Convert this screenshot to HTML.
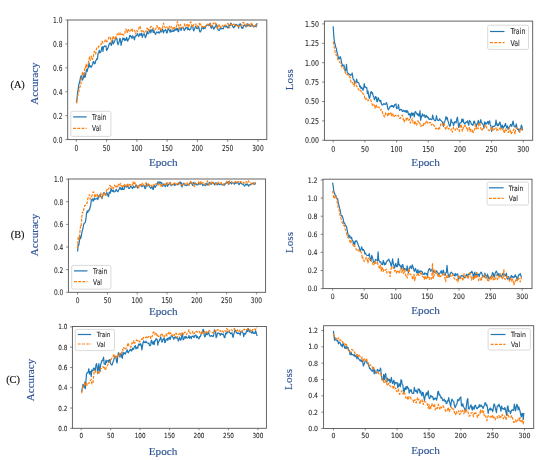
<!DOCTYPE html>
<html><head><meta charset="utf-8"><title>Training curves</title>
<style>html,body{margin:0;padding:0;background:#fff}body{width:550px;height:460px;overflow:hidden}svg{display:block}</style>
</head><body>
<svg width="550" height="460" viewBox="0 0 550 460">
<rect width="550" height="460" fill="#fff"/>
<g><path d="M76.30 102.52 L76.91 100.29 L77.51 93.06 L78.12 89.43 L78.72 85.40 L79.33 82.76 L79.93 80.77 L80.54 77.11 L81.15 75.65 L81.75 76.31 L82.36 80.13 L82.96 79.04 L83.57 76.76 L84.17 72.79 L84.78 77.46 L85.39 76.17 L85.99 72.59 L86.60 69.36 L87.20 71.39 L87.81 68.26 L88.41 67.52 L89.02 62.86 L89.63 66.76 L90.23 65.68 L90.84 67.16 L91.44 67.15 L92.05 65.24 L92.65 64.25 L93.26 61.47 L93.87 61.82 L94.47 63.81 L95.08 63.52 L95.68 60.93 L96.29 60.12 L96.89 58.57 L97.50 59.10 L98.11 52.98 L98.71 52.87 L99.32 50.25 L99.92 52.99 L100.53 52.20 L101.13 51.25 L101.74 47.54 L102.35 46.69 L102.95 51.30 L103.56 46.88 L104.16 46.72 L104.77 45.88 L105.37 46.45 L105.98 45.98 L106.58 50.47 L107.19 49.63 L107.80 48.36 L108.40 46.83 L109.01 44.48 L109.61 43.20 L110.22 42.82 L110.82 44.54 L111.43 45.40 L112.04 41.21 L112.64 40.00 L113.25 43.99 L113.85 42.67 L114.46 41.94 L115.06 39.98 L115.67 38.93 L116.28 38.38 L116.88 38.40 L117.49 43.46 L118.09 44.62 L118.70 43.14 L119.30 41.00 L119.91 38.30 L120.52 40.29 L121.12 45.35 L121.73 42.20 L122.33 40.17 L122.94 37.85 L123.54 39.62 L124.15 38.30 L124.76 40.58 L125.36 39.16 L125.97 40.17 L126.57 37.25 L127.18 39.96 L127.78 41.13 L128.39 39.09 L129.00 39.05 L129.60 35.78 L130.21 35.28 L130.81 36.76 L131.42 36.57 L132.02 38.53 L132.63 35.74 L133.24 36.73 L133.84 37.78 L134.45 39.94 L135.05 36.11 L135.66 36.73 L136.26 35.42 L136.87 35.32 L137.48 33.50 L138.08 35.25 L138.69 36.50 L139.29 35.40 L139.90 33.41 L140.50 35.00 L141.11 35.28 L141.72 33.01 L142.32 37.34 L142.93 35.23 L143.53 34.66 L144.14 33.69 L144.74 34.91 L145.35 37.75 L145.96 36.50 L146.56 34.53 L147.17 31.33 L147.77 33.34 L148.38 33.57 L148.98 32.81 L149.59 31.01 L150.20 29.74 L150.80 32.89 L151.41 30.50 L152.01 29.68 L152.62 29.68 L153.22 32.51 L153.83 30.21 L154.44 32.59 L155.04 33.29 L155.65 34.39 L156.25 32.57 L156.86 31.79 L157.46 32.47 L158.07 32.86 L158.68 31.93 L159.28 33.04 L159.89 32.70 L160.49 30.40 L161.10 30.88 L161.70 31.87 L162.31 29.24 L162.92 29.95 L163.52 32.92 L164.13 31.04 L164.73 30.54 L165.34 29.71 L165.94 29.86 L166.55 32.96 L167.16 32.98 L167.76 30.24 L168.37 28.25 L168.97 29.91 L169.58 30.23 L170.18 32.27 L170.79 29.59 L171.39 31.56 L172.00 31.56 L172.61 31.10 L173.21 30.14 L173.82 31.55 L174.42 30.13 L175.03 29.20 L175.63 30.04 L176.24 28.49 L176.85 30.05 L177.45 28.40 L178.06 31.35 L178.66 31.64 L179.27 27.72 L179.87 28.20 L180.48 28.15 L181.09 30.52 L181.69 28.19 L182.30 27.99 L182.90 27.29 L183.51 27.75 L184.11 30.60 L184.72 30.05 L185.33 28.66 L185.93 27.41 L186.54 27.85 L187.14 27.44 L187.75 29.65 L188.35 28.05 L188.96 29.53 L189.57 30.18 L190.17 29.26 L190.78 28.88 L191.38 26.07 L191.99 26.65 L192.59 26.14 L193.20 29.41 L193.81 30.91 L194.41 29.16 L195.02 27.74 L195.62 26.48 L196.23 27.27 L196.83 28.44 L197.44 28.70 L198.05 27.65 L198.65 26.54 L199.26 29.30 L199.86 31.89 L200.47 31.85 L201.07 30.46 L201.68 28.47 L202.29 26.53 L202.89 28.01 L203.50 29.05 L204.10 26.60 L204.71 28.40 L205.31 28.15 L205.92 25.92 L206.53 25.48 L207.13 25.29 L207.74 25.02 L208.34 24.48 L208.95 25.77 L209.55 24.35 L210.16 23.17 L210.77 27.51 L211.37 28.24 L211.98 25.45 L212.58 25.91 L213.19 28.09 L213.79 29.16 L214.40 28.19 L215.01 26.66 L215.61 26.78 L216.22 24.13 L216.82 24.95 L217.43 27.87 L218.03 29.76 L218.64 30.27 L219.25 30.50 L219.85 29.28 L220.46 27.33 L221.06 28.89 L221.67 28.48 L222.27 28.49 L222.88 28.86 L223.49 28.40 L224.09 26.12 L224.70 26.18 L225.30 25.45 L225.91 27.08 L226.51 25.93 L227.12 26.68 L227.73 27.97 L228.33 27.79 L228.94 25.08 L229.54 25.58 L230.15 25.76 L230.75 23.18 L231.36 23.93 L231.96 24.83 L232.57 26.43 L233.18 27.05 L233.78 27.99 L234.39 26.02 L234.99 26.50 L235.60 24.35 L236.20 24.46 L236.81 25.68 L237.42 25.09 L238.02 25.78 L238.63 28.23 L239.23 24.13 L239.84 24.94 L240.44 23.77 L241.05 25.91 L241.66 28.13 L242.26 27.47 L242.87 28.36 L243.47 25.82 L244.08 25.28 L244.68 24.94 L245.29 26.07 L245.90 26.97 L246.50 26.35 L247.11 23.52 L247.71 25.89 L248.32 24.20 L248.92 25.81 L249.53 24.83 L250.14 25.32 L250.74 26.47 L251.35 25.05 L251.95 24.83 L252.56 24.84 L253.16 26.59 L253.77 26.38 L254.38 26.57 L254.98 26.25 L255.59 25.09 L256.19 26.79 L256.80 23.85 L257.40 23.54" fill="none" stroke="#1f77b4" stroke-width="1.2" stroke-linejoin="round"/>
<path d="M76.30 101.33 L76.91 102.95 L77.51 96.06 L78.12 94.82 L78.72 92.35 L79.33 88.17 L79.93 86.94 L80.54 86.17 L81.15 81.69 L81.75 78.22 L82.36 71.86 L82.96 74.52 L83.57 75.49 L84.17 74.23 L84.78 68.04 L85.39 68.64 L85.99 64.18 L86.60 67.83 L87.20 65.36 L87.81 64.52 L88.41 62.38 L89.02 58.78 L89.63 56.86 L90.23 60.44 L90.84 59.15 L91.44 56.13 L92.05 58.80 L92.65 59.36 L93.26 57.72 L93.87 52.11 L94.47 51.37 L95.08 53.34 L95.68 54.12 L96.29 49.47 L96.89 47.50 L97.50 47.90 L98.11 47.76 L98.71 46.17 L99.32 46.30 L99.92 45.22 L100.53 45.20 L101.13 44.44 L101.74 41.30 L102.35 41.40 L102.95 43.11 L103.56 42.46 L104.16 42.15 L104.77 41.74 L105.37 39.64 L105.98 39.72 L106.58 41.75 L107.19 41.28 L107.80 40.62 L108.40 38.93 L109.01 37.18 L109.61 37.60 L110.22 37.07 L110.82 39.95 L111.43 42.22 L112.04 38.84 L112.64 38.33 L113.25 35.72 L113.85 38.27 L114.46 39.34 L115.06 39.61 L115.67 35.84 L116.28 37.94 L116.88 34.67 L117.49 34.04 L118.09 34.57 L118.70 32.74 L119.30 33.76 L119.91 34.73 L120.52 32.95 L121.12 34.39 L121.73 34.48 L122.33 33.17 L122.94 34.85 L123.54 34.83 L124.15 35.21 L124.76 33.95 L125.36 30.64 L125.97 28.96 L126.57 31.16 L127.18 32.62 L127.78 29.92 L128.39 29.11 L129.00 31.10 L129.60 31.10 L130.21 31.85 L130.81 30.13 L131.42 29.90 L132.02 28.23 L132.63 31.35 L133.24 30.80 L133.84 30.22 L134.45 30.24 L135.05 31.53 L135.66 34.20 L136.26 31.19 L136.87 30.41 L137.48 31.65 L138.08 31.11 L138.69 29.63 L139.29 26.23 L139.90 26.19 L140.50 28.40 L141.11 31.25 L141.72 30.68 L142.32 31.77 L142.93 30.64 L143.53 31.83 L144.14 32.29 L144.74 31.11 L145.35 30.90 L145.96 31.97 L146.56 28.99 L147.17 28.06 L147.77 29.50 L148.38 31.09 L148.98 28.42 L149.59 27.72 L150.20 27.78 L150.80 26.55 L151.41 26.52 L152.01 27.07 L152.62 28.16 L153.22 27.89 L153.83 29.49 L154.44 30.06 L155.04 30.16 L155.65 29.32 L156.25 27.36 L156.86 25.51 L157.46 26.70 L158.07 29.19 L158.68 29.13 L159.28 26.60 L159.89 28.05 L160.49 30.18 L161.10 28.80 L161.70 30.43 L162.31 29.06 L162.92 25.87 L163.52 23.20 L164.13 25.28 L164.73 27.03 L165.34 27.92 L165.94 27.02 L166.55 26.37 L167.16 27.60 L167.76 28.13 L168.37 29.33 L168.97 27.96 L169.58 26.18 L170.18 26.86 L170.79 27.92 L171.39 26.59 L172.00 27.47 L172.61 29.26 L173.21 27.46 L173.82 29.00 L174.42 27.50 L175.03 28.03 L175.63 26.81 L176.24 27.14 L176.85 24.15 L177.45 21.58 L178.06 24.04 L178.66 25.74 L179.27 28.99 L179.87 27.12 L180.48 24.48 L181.09 26.49 L181.69 27.38 L182.30 27.58 L182.90 27.21 L183.51 27.60 L184.11 26.46 L184.72 23.93 L185.33 25.48 L185.93 26.13 L186.54 24.73 L187.14 25.69 L187.75 24.39 L188.35 27.50 L188.96 26.00 L189.57 24.14 L190.17 22.75 L190.78 21.79 L191.38 23.82 L191.99 26.11 L192.59 27.49 L193.20 25.53 L193.81 24.44 L194.41 24.68 L195.02 24.26 L195.62 23.91 L196.23 25.83 L196.83 27.66 L197.44 26.22 L198.05 25.71 L198.65 24.66 L199.26 23.30 L199.86 25.93 L200.47 23.92 L201.07 26.06 L201.68 25.92 L202.29 27.23 L202.89 25.87 L203.50 26.90 L204.10 26.86 L204.71 26.95 L205.31 26.47 L205.92 25.75 L206.53 24.98 L207.13 24.23 L207.74 24.18 L208.34 25.40 L208.95 25.20 L209.55 23.67 L210.16 24.35 L210.77 26.73 L211.37 25.28 L211.98 25.74 L212.58 25.03 L213.19 23.12 L213.79 23.76 L214.40 23.22 L215.01 23.94 L215.61 23.03 L216.22 25.35 L216.82 27.87 L217.43 28.05 L218.03 28.48 L218.64 26.62 L219.25 23.93 L219.85 25.95 L220.46 27.32 L221.06 26.56 L221.67 27.06 L222.27 26.22 L222.88 25.20 L223.49 24.94 L224.09 25.75 L224.70 25.04 L225.30 25.05 L225.91 25.38 L226.51 25.56 L227.12 24.17 L227.73 23.38 L228.33 23.79 L228.94 26.44 L229.54 27.77 L230.15 25.33 L230.75 24.73 L231.36 24.59 L231.96 24.59 L232.57 23.59 L233.18 24.46 L233.78 23.98 L234.39 24.87 L234.99 26.51 L235.60 25.55 L236.20 25.28 L236.81 25.67 L237.42 25.38 L238.02 24.94 L238.63 26.88 L239.23 25.80 L239.84 26.04 L240.44 25.83 L241.05 25.53 L241.66 26.03 L242.26 23.98 L242.87 22.54 L243.47 22.39 L244.08 23.18 L244.68 23.23 L245.29 23.55 L245.90 25.85 L246.50 26.38 L247.11 24.04 L247.71 23.96 L248.32 24.73 L248.92 24.23 L249.53 26.26 L250.14 25.13 L250.74 23.28 L251.35 23.74 L251.95 24.62 L252.56 24.19 L253.16 25.29 L253.77 27.19 L254.38 25.07 L254.98 25.12 L255.59 25.51 L256.19 25.64 L256.80 25.66 L257.40 23.51" fill="none" stroke="#ff7f0e" stroke-width="1.2" stroke-dasharray="2.9 1.3" stroke-linejoin="round"/>
<rect x="67.70" y="20.00" width="199.10" height="119.60" fill="none" stroke="#555555" stroke-width="0.9"/>
<line x1="76.30" y1="139.60" x2="76.30" y2="141.80" stroke="#555555" stroke-width="0.7"/>
<text transform="translate(76.30 150.85) scale(0.723 1)" text-anchor="middle" font-family="&quot;DejaVu Sans&quot;, &quot;Liberation Sans&quot;, sans-serif" font-size="8.21" fill="#2b2b2b" stroke="#2b2b2b" stroke-width="0.1">0</text>
<line x1="106.58" y1="139.60" x2="106.58" y2="141.80" stroke="#555555" stroke-width="0.7"/>
<text transform="translate(106.58 150.85) scale(0.723 1)" text-anchor="middle" font-family="&quot;DejaVu Sans&quot;, &quot;Liberation Sans&quot;, sans-serif" font-size="8.21" fill="#2b2b2b" stroke="#2b2b2b" stroke-width="0.1">50</text>
<line x1="136.87" y1="139.60" x2="136.87" y2="141.80" stroke="#555555" stroke-width="0.7"/>
<text transform="translate(136.87 150.85) scale(0.723 1)" text-anchor="middle" font-family="&quot;DejaVu Sans&quot;, &quot;Liberation Sans&quot;, sans-serif" font-size="8.21" fill="#2b2b2b" stroke="#2b2b2b" stroke-width="0.1">100</text>
<line x1="167.16" y1="139.60" x2="167.16" y2="141.80" stroke="#555555" stroke-width="0.7"/>
<text transform="translate(167.16 150.85) scale(0.723 1)" text-anchor="middle" font-family="&quot;DejaVu Sans&quot;, &quot;Liberation Sans&quot;, sans-serif" font-size="8.21" fill="#2b2b2b" stroke="#2b2b2b" stroke-width="0.1">150</text>
<line x1="197.44" y1="139.60" x2="197.44" y2="141.80" stroke="#555555" stroke-width="0.7"/>
<text transform="translate(197.44 150.85) scale(0.723 1)" text-anchor="middle" font-family="&quot;DejaVu Sans&quot;, &quot;Liberation Sans&quot;, sans-serif" font-size="8.21" fill="#2b2b2b" stroke="#2b2b2b" stroke-width="0.1">200</text>
<line x1="227.73" y1="139.60" x2="227.73" y2="141.80" stroke="#555555" stroke-width="0.7"/>
<text transform="translate(227.73 150.85) scale(0.723 1)" text-anchor="middle" font-family="&quot;DejaVu Sans&quot;, &quot;Liberation Sans&quot;, sans-serif" font-size="8.21" fill="#2b2b2b" stroke="#2b2b2b" stroke-width="0.1">250</text>
<line x1="258.01" y1="139.60" x2="258.01" y2="141.80" stroke="#555555" stroke-width="0.7"/>
<text transform="translate(258.01 150.85) scale(0.723 1)" text-anchor="middle" font-family="&quot;DejaVu Sans&quot;, &quot;Liberation Sans&quot;, sans-serif" font-size="8.21" fill="#2b2b2b" stroke="#2b2b2b" stroke-width="0.1">300</text>
<line x1="65.40" y1="139.60" x2="67.70" y2="139.60" stroke="#555555" stroke-width="0.7"/>
<text transform="translate(62.50 142.60) scale(0.723 1)" text-anchor="end" font-family="&quot;DejaVu Sans&quot;, &quot;Liberation Sans&quot;, sans-serif" font-size="8.21" fill="#2b2b2b" stroke="#2b2b2b" stroke-width="0.1">0.0</text>
<line x1="65.40" y1="115.68" x2="67.70" y2="115.68" stroke="#555555" stroke-width="0.7"/>
<text transform="translate(62.50 118.68) scale(0.723 1)" text-anchor="end" font-family="&quot;DejaVu Sans&quot;, &quot;Liberation Sans&quot;, sans-serif" font-size="8.21" fill="#2b2b2b" stroke="#2b2b2b" stroke-width="0.1">0.2</text>
<line x1="65.40" y1="91.76" x2="67.70" y2="91.76" stroke="#555555" stroke-width="0.7"/>
<text transform="translate(62.50 94.76) scale(0.723 1)" text-anchor="end" font-family="&quot;DejaVu Sans&quot;, &quot;Liberation Sans&quot;, sans-serif" font-size="8.21" fill="#2b2b2b" stroke="#2b2b2b" stroke-width="0.1">0.4</text>
<line x1="65.40" y1="67.84" x2="67.70" y2="67.84" stroke="#555555" stroke-width="0.7"/>
<text transform="translate(62.50 70.84) scale(0.723 1)" text-anchor="end" font-family="&quot;DejaVu Sans&quot;, &quot;Liberation Sans&quot;, sans-serif" font-size="8.21" fill="#2b2b2b" stroke="#2b2b2b" stroke-width="0.1">0.6</text>
<line x1="65.40" y1="43.92" x2="67.70" y2="43.92" stroke="#555555" stroke-width="0.7"/>
<text transform="translate(62.50 46.92) scale(0.723 1)" text-anchor="end" font-family="&quot;DejaVu Sans&quot;, &quot;Liberation Sans&quot;, sans-serif" font-size="8.21" fill="#2b2b2b" stroke="#2b2b2b" stroke-width="0.1">0.8</text>
<line x1="65.40" y1="20.00" x2="67.70" y2="20.00" stroke="#555555" stroke-width="0.7"/>
<text transform="translate(62.50 23.00) scale(0.723 1)" text-anchor="end" font-family="&quot;DejaVu Sans&quot;, &quot;Liberation Sans&quot;, sans-serif" font-size="8.21" fill="#2b2b2b" stroke="#2b2b2b" stroke-width="0.1">1.0</text>
<rect x="70.80" y="111.30" width="40.10" height="25.10" rx="1.6" fill="#fff" fill-opacity="0.8" stroke="#d0d0d0" stroke-width="0.8"/>
<line x1="73.10" y1="116.90" x2="86.70" y2="116.90" stroke="#1f77b4" stroke-width="1.2"/>
<line x1="73.10" y1="128.30" x2="86.70" y2="128.30" stroke="#ff7f0e" stroke-width="1.2" stroke-dasharray="2.9 1.3"/>
<text transform="translate(92.10 119.90) scale(0.723 1)" text-anchor="start" font-family="&quot;DejaVu Sans&quot;, &quot;Liberation Sans&quot;, sans-serif" font-size="8.21" fill="#2b2b2b" stroke="#2b2b2b" stroke-width="0.1">Train</text>
<text transform="translate(92.10 131.30) scale(0.723 1)" text-anchor="start" font-family="&quot;DejaVu Sans&quot;, &quot;Liberation Sans&quot;, sans-serif" font-size="8.21" fill="#2b2b2b" stroke="#2b2b2b" stroke-width="0.1">Val</text>
<text transform="translate(37.60 83.60) rotate(-90)" text-anchor="middle" font-family="&quot;Liberation Serif&quot;, &quot;Times New Roman&quot;, serif" font-size="11.1" fill="#2f5496" stroke="#2f5496" stroke-width="0.15">Accuracy</text>
<text transform="translate(163.20 166.30)" text-anchor="middle" font-family="&quot;Liberation Serif&quot;, &quot;Times New Roman&quot;, serif" font-size="11.2" fill="#2f5496" stroke="#2f5496" stroke-width="0.15">Epoch</text>
<text transform="translate(17.60 88.30)" text-anchor="middle" font-family="&quot;Liberation Serif&quot;, &quot;Times New Roman&quot;, serif" font-size="10.3" fill="#111" stroke="#111" stroke-width="0.15">(A)</text></g>
<g><path d="M333.20 26.23 L333.83 37.03 L334.47 42.04 L335.10 44.48 L335.73 47.20 L336.37 48.54 L337.00 52.62 L337.63 54.53 L338.27 57.61 L338.90 58.91 L339.53 58.65 L340.17 56.49 L340.80 58.24 L341.44 61.52 L342.07 64.26 L342.70 65.79 L343.34 65.70 L343.97 64.89 L344.60 69.33 L345.24 71.01 L345.87 69.74 L346.50 64.28 L347.14 71.67 L347.77 73.35 L348.40 73.30 L349.04 74.67 L349.67 74.33 L350.30 75.39 L350.94 74.85 L351.57 74.87 L352.20 72.98 L352.84 77.59 L353.47 79.93 L354.11 79.91 L354.74 83.49 L355.37 81.93 L356.01 82.33 L356.64 79.18 L357.27 82.10 L357.91 82.64 L358.54 82.48 L359.17 84.32 L359.81 86.86 L360.44 85.95 L361.07 88.69 L361.71 87.40 L362.34 88.54 L362.97 90.22 L363.61 88.69 L364.24 83.51 L364.88 87.20 L365.51 86.94 L366.14 87.74 L366.78 87.66 L367.41 93.58 L368.04 91.06 L368.68 95.51 L369.31 98.46 L369.94 97.08 L370.58 93.03 L371.21 91.55 L371.84 93.37 L372.48 92.62 L373.11 95.90 L373.74 96.71 L374.38 99.68 L375.01 98.45 L375.64 96.51 L376.28 97.40 L376.91 101.63 L377.54 101.36 L378.18 97.63 L378.81 99.22 L379.45 100.36 L380.08 101.74 L380.71 100.37 L381.35 103.61 L381.98 104.98 L382.61 104.84 L383.25 104.54 L383.88 103.43 L384.51 104.14 L385.15 104.38 L385.78 103.98 L386.41 102.60 L387.05 104.30 L387.68 108.13 L388.31 109.84 L388.95 108.74 L389.58 107.44 L390.21 106.45 L390.85 106.77 L391.48 105.44 L392.12 106.43 L392.75 105.52 L393.38 107.28 L394.02 106.78 L394.65 104.60 L395.28 104.66 L395.92 103.79 L396.55 108.53 L397.18 108.34 L397.82 108.06 L398.45 104.52 L399.08 108.94 L399.72 110.48 L400.35 109.34 L400.98 109.51 L401.62 109.49 L402.25 111.44 L402.88 111.39 L403.52 110.40 L404.15 110.65 L404.79 111.73 L405.42 111.98 L406.05 110.27 L406.69 112.41 L407.32 110.81 L407.95 111.83 L408.59 114.77 L409.22 114.75 L409.85 113.61 L410.49 117.88 L411.12 114.32 L411.75 112.80 L412.39 115.36 L413.02 113.08 L413.65 113.77 L414.29 117.03 L414.92 112.42 L415.55 111.52 L416.19 112.85 L416.82 114.06 L417.46 113.70 L418.09 115.68 L418.72 114.05 L419.36 116.01 L419.99 110.71 L420.62 120.28 L421.26 117.65 L421.89 115.48 L422.52 113.84 L423.16 116.09 L423.79 115.55 L424.42 114.82 L425.06 117.33 L425.69 117.37 L426.32 115.27 L426.96 116.23 L427.59 117.74 L428.22 117.31 L428.86 118.96 L429.49 119.43 L430.13 118.72 L430.76 119.43 L431.39 119.56 L432.03 119.46 L432.66 115.11 L433.29 117.71 L433.93 119.56 L434.56 120.26 L435.19 120.85 L435.83 119.95 L436.46 115.58 L437.09 119.05 L437.73 120.28 L438.36 120.56 L438.99 120.15 L439.63 118.76 L440.26 120.09 L440.89 120.29 L441.53 121.05 L442.16 121.75 L442.80 123.04 L443.43 126.36 L444.06 122.05 L444.70 121.93 L445.33 119.71 L445.96 116.51 L446.60 119.14 L447.23 117.53 L447.86 120.71 L448.50 122.13 L449.13 125.09 L449.76 126.33 L450.40 125.39 L451.03 119.04 L451.66 121.40 L452.30 122.66 L452.93 122.52 L453.56 125.63 L454.20 123.21 L454.83 121.69 L455.47 121.85 L456.10 122.87 L456.73 119.35 L457.37 117.13 L458.00 121.44 L458.63 127.33 L459.27 126.13 L459.90 122.80 L460.53 122.84 L461.17 122.52 L461.80 119.19 L462.43 121.61 L463.07 119.16 L463.70 122.61 L464.33 122.96 L464.97 124.15 L465.60 122.38 L466.24 121.89 L466.87 122.27 L467.50 120.85 L468.14 123.59 L468.77 125.20 L469.40 120.25 L470.04 121.09 L470.67 121.81 L471.30 124.29 L471.94 124.33 L472.57 125.29 L473.20 124.62 L473.84 121.26 L474.47 121.06 L475.10 123.99 L475.74 124.73 L476.37 126.57 L477.00 123.69 L477.64 123.81 L478.27 120.44 L478.90 122.69 L479.54 123.87 L480.17 122.24 L480.81 119.62 L481.44 122.81 L482.07 123.00 L482.71 124.37 L483.34 124.86 L483.97 128.20 L484.61 121.94 L485.24 122.45 L485.87 124.38 L486.51 123.77 L487.14 122.67 L487.77 121.48 L488.41 124.20 L489.04 121.47 L489.67 120.80 L490.31 125.23 L490.94 125.86 L491.57 131.33 L492.21 128.55 L492.84 126.02 L493.48 126.60 L494.11 126.48 L494.74 125.78 L495.38 125.34 L496.01 120.14 L496.64 124.14 L497.28 125.82 L497.91 123.88 L498.54 125.56 L499.18 123.70 L499.81 121.82 L500.44 123.96 L501.08 128.13 L501.71 127.02 L502.34 125.04 L502.98 128.64 L503.61 126.51 L504.25 126.76 L504.88 124.96 L505.51 123.36 L506.15 126.37 L506.78 127.89 L507.41 125.84 L508.05 129.33 L508.68 127.47 L509.31 127.47 L509.95 125.97 L510.58 124.40 L511.21 125.00 L511.85 126.51 L512.48 123.13 L513.11 121.03 L513.75 125.04 L514.38 126.65 L515.01 127.09 L515.65 126.48 L516.28 123.97 L516.91 127.58 L517.55 129.53 L518.18 128.84 L518.82 130.95 L519.45 132.00 L520.08 128.68 L520.72 128.85 L521.35 125.06 L521.98 126.68 L522.62 130.13" fill="none" stroke="#1f77b4" stroke-width="1.2" stroke-linejoin="round"/>
<path d="M333.20 41.75 L333.83 44.71 L334.47 48.47 L335.10 51.92 L335.73 54.04 L336.37 55.59 L337.00 55.62 L337.63 58.75 L338.27 60.54 L338.90 61.00 L339.53 61.85 L340.17 62.82 L340.80 63.45 L341.44 66.44 L342.07 67.09 L342.70 67.34 L343.34 67.16 L343.97 68.63 L344.60 70.09 L345.24 72.53 L345.87 73.74 L346.50 75.10 L347.14 74.55 L347.77 74.57 L348.40 74.53 L349.04 76.75 L349.67 76.50 L350.30 77.95 L350.94 82.10 L351.57 81.38 L352.20 82.19 L352.84 83.17 L353.47 85.18 L354.11 86.25 L354.74 82.50 L355.37 81.86 L356.01 83.52 L356.64 86.70 L357.27 86.64 L357.91 88.83 L358.54 88.90 L359.17 90.94 L359.81 90.75 L360.44 90.28 L361.07 91.01 L361.71 92.55 L362.34 92.16 L362.97 93.92 L363.61 94.10 L364.24 94.44 L364.88 99.12 L365.51 99.53 L366.14 98.23 L366.78 99.79 L367.41 99.26 L368.04 100.78 L368.68 99.96 L369.31 99.81 L369.94 100.20 L370.58 99.75 L371.21 101.24 L371.84 103.20 L372.48 105.42 L373.11 104.07 L373.74 104.57 L374.38 105.67 L375.01 108.29 L375.64 104.61 L376.28 105.23 L376.91 107.64 L377.54 108.05 L378.18 106.99 L378.81 107.12 L379.45 107.98 L380.08 108.98 L380.71 110.33 L381.35 109.34 L381.98 111.34 L382.61 112.89 L383.25 115.29 L383.88 115.41 L384.51 117.02 L385.15 115.88 L385.78 112.70 L386.41 112.75 L387.05 113.55 L387.68 116.44 L388.31 115.13 L388.95 112.73 L389.58 114.14 L390.21 113.75 L390.85 112.98 L391.48 115.77 L392.12 113.69 L392.75 113.17 L393.38 117.01 L394.02 116.44 L394.65 116.52 L395.28 115.60 L395.92 115.19 L396.55 114.89 L397.18 115.79 L397.82 115.56 L398.45 115.27 L399.08 117.95 L399.72 118.23 L400.35 118.39 L400.98 117.15 L401.62 116.58 L402.25 114.96 L402.88 117.38 L403.52 120.38 L404.15 122.08 L404.79 120.60 L405.42 118.95 L406.05 118.19 L406.69 120.72 L407.32 118.03 L407.95 119.65 L408.59 120.50 L409.22 119.09 L409.85 120.98 L410.49 123.14 L411.12 120.33 L411.75 119.49 L412.39 118.54 L413.02 122.72 L413.65 122.59 L414.29 123.92 L414.92 120.85 L415.55 123.24 L416.19 125.39 L416.82 124.95 L417.46 120.95 L418.09 121.03 L418.72 122.76 L419.36 122.13 L419.99 123.82 L420.62 126.43 L421.26 125.75 L421.89 125.40 L422.52 125.49 L423.16 126.59 L423.79 123.27 L424.42 124.43 L425.06 123.41 L425.69 122.87 L426.32 120.74 L426.96 121.89 L427.59 123.16 L428.22 123.84 L428.86 123.09 L429.49 122.63 L430.13 122.46 L430.76 122.61 L431.39 125.09 L432.03 124.04 L432.66 124.81 L433.29 124.04 L433.93 125.43 L434.56 126.30 L435.19 127.61 L435.83 129.05 L436.46 128.35 L437.09 127.76 L437.73 127.50 L438.36 129.34 L438.99 126.87 L439.63 128.61 L440.26 126.59 L440.89 123.77 L441.53 123.00 L442.16 123.65 L442.80 125.31 L443.43 123.64 L444.06 123.19 L444.70 126.40 L445.33 128.50 L445.96 129.62 L446.60 127.98 L447.23 126.30 L447.86 126.87 L448.50 129.08 L449.13 128.24 L449.76 128.60 L450.40 129.92 L451.03 130.00 L451.66 128.95 L452.30 132.24 L452.93 130.05 L453.56 127.08 L454.20 127.70 L454.83 128.76 L455.47 130.23 L456.10 128.79 L456.73 128.08 L457.37 128.90 L458.00 129.84 L458.63 130.41 L459.27 131.65 L459.90 128.18 L460.53 124.62 L461.17 124.57 L461.80 129.12 L462.43 131.20 L463.07 128.79 L463.70 125.82 L464.33 125.63 L464.97 126.62 L465.60 125.64 L466.24 128.12 L466.87 127.86 L467.50 130.87 L468.14 128.88 L468.77 127.42 L469.40 127.64 L470.04 131.30 L470.67 129.41 L471.30 129.63 L471.94 131.76 L472.57 129.76 L473.20 132.71 L473.84 131.34 L474.47 130.80 L475.10 125.87 L475.74 124.46 L476.37 129.12 L477.00 129.40 L477.64 127.80 L478.27 128.67 L478.90 122.92 L479.54 123.08 L480.17 124.74 L480.81 128.49 L481.44 129.81 L482.07 130.66 L482.71 128.88 L483.34 128.57 L483.97 127.98 L484.61 127.29 L485.24 124.80 L485.87 124.76 L486.51 127.51 L487.14 128.59 L487.77 129.75 L488.41 129.91 L489.04 130.76 L489.67 130.20 L490.31 130.46 L490.94 129.94 L491.57 126.34 L492.21 129.12 L492.84 129.03 L493.48 130.30 L494.11 128.78 L494.74 129.27 L495.38 129.58 L496.01 127.69 L496.64 130.72 L497.28 129.46 L497.91 129.83 L498.54 130.16 L499.18 128.75 L499.81 128.17 L500.44 129.75 L501.08 128.68 L501.71 128.23 L502.34 129.72 L502.98 128.90 L503.61 130.11 L504.25 133.41 L504.88 130.90 L505.51 128.76 L506.15 130.36 L506.78 130.58 L507.41 131.01 L508.05 132.42 L508.68 132.28 L509.31 127.57 L509.95 129.12 L510.58 132.54 L511.21 133.75 L511.85 131.92 L512.48 132.25 L513.11 131.01 L513.75 129.14 L514.38 131.77 L515.01 133.99 L515.65 128.32 L516.28 127.96 L516.91 128.38 L517.55 128.14 L518.18 128.62 L518.82 129.75 L519.45 130.93 L520.08 132.00 L520.72 130.80 L521.35 129.58 L521.98 128.24 L522.62 130.48" fill="none" stroke="#ff7f0e" stroke-width="1.2" stroke-dasharray="2.9 1.3" stroke-linejoin="round"/>
<rect x="324.40" y="21.10" width="208.30" height="119.20" fill="none" stroke="#555555" stroke-width="0.9"/>
<line x1="333.20" y1="140.30" x2="333.20" y2="142.49" stroke="#555555" stroke-width="0.7"/>
<text transform="translate(333.20 151.51) scale(0.766 1)" text-anchor="middle" font-family="&quot;DejaVu Sans&quot;, &quot;Liberation Sans&quot;, sans-serif" font-size="8.18" fill="#2b2b2b" stroke="#2b2b2b" stroke-width="0.1">0</text>
<line x1="364.88" y1="140.30" x2="364.88" y2="142.49" stroke="#555555" stroke-width="0.7"/>
<text transform="translate(364.88 151.51) scale(0.766 1)" text-anchor="middle" font-family="&quot;DejaVu Sans&quot;, &quot;Liberation Sans&quot;, sans-serif" font-size="8.18" fill="#2b2b2b" stroke="#2b2b2b" stroke-width="0.1">50</text>
<line x1="396.55" y1="140.30" x2="396.55" y2="142.49" stroke="#555555" stroke-width="0.7"/>
<text transform="translate(396.55 151.51) scale(0.766 1)" text-anchor="middle" font-family="&quot;DejaVu Sans&quot;, &quot;Liberation Sans&quot;, sans-serif" font-size="8.18" fill="#2b2b2b" stroke="#2b2b2b" stroke-width="0.1">100</text>
<line x1="428.22" y1="140.30" x2="428.22" y2="142.49" stroke="#555555" stroke-width="0.7"/>
<text transform="translate(428.22 151.51) scale(0.766 1)" text-anchor="middle" font-family="&quot;DejaVu Sans&quot;, &quot;Liberation Sans&quot;, sans-serif" font-size="8.18" fill="#2b2b2b" stroke="#2b2b2b" stroke-width="0.1">150</text>
<line x1="459.90" y1="140.30" x2="459.90" y2="142.49" stroke="#555555" stroke-width="0.7"/>
<text transform="translate(459.90 151.51) scale(0.766 1)" text-anchor="middle" font-family="&quot;DejaVu Sans&quot;, &quot;Liberation Sans&quot;, sans-serif" font-size="8.18" fill="#2b2b2b" stroke="#2b2b2b" stroke-width="0.1">200</text>
<line x1="491.57" y1="140.30" x2="491.57" y2="142.49" stroke="#555555" stroke-width="0.7"/>
<text transform="translate(491.57 151.51) scale(0.766 1)" text-anchor="middle" font-family="&quot;DejaVu Sans&quot;, &quot;Liberation Sans&quot;, sans-serif" font-size="8.18" fill="#2b2b2b" stroke="#2b2b2b" stroke-width="0.1">250</text>
<line x1="523.25" y1="140.30" x2="523.25" y2="142.49" stroke="#555555" stroke-width="0.7"/>
<text transform="translate(523.25 151.51) scale(0.766 1)" text-anchor="middle" font-family="&quot;DejaVu Sans&quot;, &quot;Liberation Sans&quot;, sans-serif" font-size="8.18" fill="#2b2b2b" stroke="#2b2b2b" stroke-width="0.1">300</text>
<line x1="322.10" y1="140.30" x2="324.40" y2="140.30" stroke="#555555" stroke-width="0.7"/>
<text transform="translate(318.96 143.29) scale(0.766 1)" text-anchor="end" font-family="&quot;DejaVu Sans&quot;, &quot;Liberation Sans&quot;, sans-serif" font-size="8.18" fill="#2b2b2b" stroke="#2b2b2b" stroke-width="0.1">0.00</text>
<line x1="322.10" y1="120.90" x2="324.40" y2="120.90" stroke="#555555" stroke-width="0.7"/>
<text transform="translate(318.96 123.89) scale(0.766 1)" text-anchor="end" font-family="&quot;DejaVu Sans&quot;, &quot;Liberation Sans&quot;, sans-serif" font-size="8.18" fill="#2b2b2b" stroke="#2b2b2b" stroke-width="0.1">0.25</text>
<line x1="322.10" y1="101.50" x2="324.40" y2="101.50" stroke="#555555" stroke-width="0.7"/>
<text transform="translate(318.96 104.49) scale(0.766 1)" text-anchor="end" font-family="&quot;DejaVu Sans&quot;, &quot;Liberation Sans&quot;, sans-serif" font-size="8.18" fill="#2b2b2b" stroke="#2b2b2b" stroke-width="0.1">0.50</text>
<line x1="322.10" y1="82.10" x2="324.40" y2="82.10" stroke="#555555" stroke-width="0.7"/>
<text transform="translate(318.96 85.09) scale(0.766 1)" text-anchor="end" font-family="&quot;DejaVu Sans&quot;, &quot;Liberation Sans&quot;, sans-serif" font-size="8.18" fill="#2b2b2b" stroke="#2b2b2b" stroke-width="0.1">0.75</text>
<line x1="322.10" y1="62.70" x2="324.40" y2="62.70" stroke="#555555" stroke-width="0.7"/>
<text transform="translate(318.96 65.69) scale(0.766 1)" text-anchor="end" font-family="&quot;DejaVu Sans&quot;, &quot;Liberation Sans&quot;, sans-serif" font-size="8.18" fill="#2b2b2b" stroke="#2b2b2b" stroke-width="0.1">1.00</text>
<line x1="322.10" y1="43.30" x2="324.40" y2="43.30" stroke="#555555" stroke-width="0.7"/>
<text transform="translate(318.96 46.29) scale(0.766 1)" text-anchor="end" font-family="&quot;DejaVu Sans&quot;, &quot;Liberation Sans&quot;, sans-serif" font-size="8.18" fill="#2b2b2b" stroke="#2b2b2b" stroke-width="0.1">1.25</text>
<line x1="322.10" y1="23.90" x2="324.40" y2="23.90" stroke="#555555" stroke-width="0.7"/>
<text transform="translate(318.96 26.89) scale(0.766 1)" text-anchor="end" font-family="&quot;DejaVu Sans&quot;, &quot;Liberation Sans&quot;, sans-serif" font-size="8.18" fill="#2b2b2b" stroke="#2b2b2b" stroke-width="0.1">1.50</text>
<rect x="487.70" y="25.20" width="40.80" height="24.20" rx="1.6" fill="#fff" fill-opacity="0.8" stroke="#d0d0d0" stroke-width="0.8"/>
<line x1="490.00" y1="31.50" x2="504.50" y2="31.50" stroke="#1f77b4" stroke-width="1.2"/>
<line x1="490.00" y1="42.60" x2="504.50" y2="42.60" stroke="#ff7f0e" stroke-width="1.2" stroke-dasharray="2.9 1.3"/>
<text transform="translate(510.40 34.49) scale(0.766 1)" text-anchor="start" font-family="&quot;DejaVu Sans&quot;, &quot;Liberation Sans&quot;, sans-serif" font-size="8.18" fill="#2b2b2b" stroke="#2b2b2b" stroke-width="0.1">Train</text>
<text transform="translate(510.40 45.59) scale(0.766 1)" text-anchor="start" font-family="&quot;DejaVu Sans&quot;, &quot;Liberation Sans&quot;, sans-serif" font-size="8.18" fill="#2b2b2b" stroke="#2b2b2b" stroke-width="0.1">Val</text>
<text transform="translate(292.60 79.70) rotate(-90)" text-anchor="middle" font-family="&quot;Liberation Serif&quot;, &quot;Times New Roman&quot;, serif" font-size="11.1" fill="#2f5496" stroke="#2f5496" stroke-width="0.15">Loss</text>
<text transform="translate(425.60 166.00)" text-anchor="middle" font-family="&quot;Liberation Serif&quot;, &quot;Times New Roman&quot;, serif" font-size="11.2" fill="#2f5496" stroke="#2f5496" stroke-width="0.15">Epoch</text></g>
<g><path d="M77.60 251.55 L78.20 244.35 L78.79 245.07 L79.39 241.52 L79.98 236.16 L80.58 238.66 L81.18 236.68 L81.77 233.05 L82.37 230.42 L82.96 228.49 L83.56 225.02 L84.16 223.26 L84.75 222.91 L85.35 222.11 L85.94 218.72 L86.54 213.42 L87.14 211.05 L87.73 212.61 L88.33 210.21 L88.92 210.53 L89.52 209.72 L90.12 207.24 L90.71 205.36 L91.31 199.99 L91.90 199.51 L92.50 198.83 L93.10 201.25 L93.69 200.33 L94.29 197.92 L94.88 199.40 L95.48 198.74 L96.08 198.95 L96.67 198.55 L97.27 198.02 L97.86 199.73 L98.46 196.37 L99.06 195.60 L99.65 194.93 L100.25 194.33 L100.84 196.81 L101.44 196.66 L102.04 198.75 L102.63 195.42 L103.23 193.73 L103.82 192.67 L104.42 192.86 L105.02 194.59 L105.61 195.41 L106.21 194.10 L106.80 192.52 L107.40 193.69 L108.00 195.86 L108.59 196.66 L109.19 192.01 L109.78 192.58 L110.38 193.23 L110.98 188.30 L111.57 189.30 L112.17 191.50 L112.76 190.85 L113.36 190.20 L113.96 192.07 L114.55 191.77 L115.15 191.54 L115.74 190.18 L116.34 189.39 L116.94 190.66 L117.53 191.69 L118.13 191.37 L118.72 189.88 L119.32 188.94 L119.92 187.24 L120.51 188.31 L121.11 189.67 L121.70 189.25 L122.30 187.26 L122.90 189.48 L123.49 189.31 L124.09 189.39 L124.68 186.03 L125.28 186.09 L125.88 186.99 L126.47 187.13 L127.07 185.78 L127.66 186.00 L128.26 187.63 L128.86 188.49 L129.45 188.31 L130.05 187.45 L130.64 186.20 L131.24 186.46 L131.84 187.38 L132.43 188.60 L133.03 187.53 L133.62 186.14 L134.22 187.52 L134.82 187.23 L135.41 186.78 L136.01 184.89 L136.60 185.68 L137.20 187.23 L137.80 188.03 L138.39 186.44 L138.99 185.77 L139.58 185.14 L140.18 185.45 L140.78 184.85 L141.37 186.32 L141.97 186.68 L142.56 185.82 L143.16 185.87 L143.76 185.86 L144.35 185.64 L144.95 188.65 L145.54 188.46 L146.14 185.16 L146.74 183.80 L147.33 186.01 L147.93 186.01 L148.52 183.98 L149.12 185.68 L149.72 186.78 L150.31 187.63 L150.91 188.37 L151.50 186.77 L152.10 186.66 L152.70 189.02 L153.29 189.49 L153.89 185.56 L154.48 185.40 L155.08 187.55 L155.68 186.18 L156.27 185.78 L156.87 185.10 L157.46 183.12 L158.06 181.75 L158.66 183.31 L159.25 183.55 L159.85 181.72 L160.44 182.47 L161.04 183.38 L161.64 182.56 L162.23 186.04 L162.83 186.16 L163.42 184.01 L164.02 184.43 L164.62 185.35 L165.21 186.83 L165.81 185.57 L166.40 182.99 L167.00 184.89 L167.60 186.39 L168.19 184.64 L168.79 184.70 L169.38 183.29 L169.98 182.74 L170.58 184.14 L171.17 185.74 L171.77 185.12 L172.36 184.37 L172.96 184.81 L173.56 184.19 L174.15 184.20 L174.75 185.42 L175.34 184.99 L175.94 184.41 L176.54 184.43 L177.13 184.16 L177.73 184.96 L178.32 182.80 L178.92 184.18 L179.52 183.23 L180.11 181.74 L180.71 183.78 L181.30 182.84 L181.90 186.95 L182.50 186.03 L183.09 183.61 L183.69 183.21 L184.28 183.99 L184.88 185.24 L185.48 185.36 L186.07 184.87 L186.67 185.59 L187.26 184.55 L187.86 185.00 L188.46 184.69 L189.05 185.10 L189.65 183.18 L190.24 183.15 L190.84 181.99 L191.44 183.12 L192.03 184.21 L192.63 185.43 L193.22 183.17 L193.82 182.31 L194.42 183.78 L195.01 184.63 L195.61 183.00 L196.20 183.97 L196.80 185.08 L197.40 184.57 L197.99 184.62 L198.59 183.50 L199.18 184.02 L199.78 183.13 L200.38 184.17 L200.97 182.80 L201.57 183.52 L202.16 184.03 L202.76 185.62 L203.36 184.76 L203.95 184.83 L204.55 184.05 L205.14 185.76 L205.74 185.19 L206.34 184.00 L206.93 183.14 L207.53 185.01 L208.12 184.99 L208.72 184.30 L209.32 182.38 L209.91 182.78 L210.51 183.86 L211.10 184.30 L211.70 183.77 L212.30 182.37 L212.89 182.42 L213.49 182.67 L214.08 184.05 L214.68 184.74 L215.28 183.08 L215.87 182.80 L216.47 183.08 L217.06 184.91 L217.66 184.20 L218.26 183.62 L218.85 183.86 L219.45 184.66 L220.04 184.61 L220.64 183.52 L221.24 183.79 L221.83 184.46 L222.43 184.92 L223.02 184.67 L223.62 184.59 L224.22 185.33 L224.81 183.58 L225.41 184.00 L226.00 183.61 L226.60 182.92 L227.20 182.84 L227.79 181.93 L228.39 181.66 L228.98 184.26 L229.58 182.37 L230.18 182.65 L230.77 182.71 L231.37 183.98 L231.96 182.86 L232.56 182.37 L233.16 182.71 L233.75 183.01 L234.35 184.32 L234.94 183.51 L235.54 182.09 L236.14 183.15 L236.73 182.85 L237.33 182.43 L237.92 182.53 L238.52 184.00 L239.12 184.64 L239.71 183.55 L240.31 182.48 L240.90 183.31 L241.50 183.62 L242.10 184.14 L242.69 184.18 L243.29 184.51 L243.88 185.29 L244.48 186.01 L245.08 185.29 L245.67 184.10 L246.27 185.00 L246.86 184.06 L247.46 184.34 L248.06 185.18 L248.65 186.17 L249.25 184.85 L249.84 184.78 L250.44 184.50 L251.04 184.62 L251.63 183.93 L252.23 183.37 L252.82 183.52 L253.42 182.95 L254.02 183.65 L254.61 184.35 L255.21 183.73 L255.80 183.39" fill="none" stroke="#1f77b4" stroke-width="1.2" stroke-linejoin="round"/>
<path d="M77.60 248.15 L78.20 237.06 L78.79 239.82 L79.39 238.64 L79.98 231.00 L80.58 225.48 L81.18 226.07 L81.77 217.54 L82.37 212.06 L82.96 212.79 L83.56 210.69 L84.16 207.69 L84.75 205.40 L85.35 205.48 L85.94 205.15 L86.54 203.47 L87.14 203.18 L87.73 199.12 L88.33 197.25 L88.92 196.02 L89.52 194.80 L90.12 199.15 L90.71 198.08 L91.31 197.88 L91.90 195.99 L92.50 194.03 L93.10 191.86 L93.69 192.11 L94.29 194.42 L94.88 196.91 L95.48 197.48 L96.08 194.12 L96.67 194.21 L97.27 193.98 L97.86 197.13 L98.46 197.05 L99.06 197.12 L99.65 196.92 L100.25 194.86 L100.84 192.80 L101.44 195.86 L102.04 197.90 L102.63 194.51 L103.23 195.65 L103.82 193.30 L104.42 193.47 L105.02 194.05 L105.61 196.09 L106.21 191.80 L106.80 190.04 L107.40 188.38 L108.00 189.09 L108.59 189.11 L109.19 187.61 L109.78 185.25 L110.38 185.98 L110.98 187.18 L111.57 188.70 L112.17 186.41 L112.76 187.11 L113.36 188.67 L113.96 187.13 L114.55 185.18 L115.15 186.00 L115.74 187.69 L116.34 186.14 L116.94 187.01 L117.53 187.68 L118.13 185.60 L118.72 183.43 L119.32 183.90 L119.92 184.83 L120.51 183.31 L121.11 185.94 L121.70 186.15 L122.30 186.22 L122.90 187.55 L123.49 185.34 L124.09 186.32 L124.68 184.45 L125.28 186.01 L125.88 187.06 L126.47 186.26 L127.07 184.65 L127.66 183.15 L128.26 185.25 L128.86 186.04 L129.45 184.53 L130.05 185.45 L130.64 184.60 L131.24 185.25 L131.84 186.05 L132.43 185.02 L133.03 181.74 L133.62 183.17 L134.22 184.12 L134.82 182.43 L135.41 184.22 L136.01 186.32 L136.60 186.92 L137.20 185.19 L137.80 185.04 L138.39 185.75 L138.99 187.78 L139.58 186.22 L140.18 184.63 L140.78 184.44 L141.37 185.95 L141.97 184.14 L142.56 183.07 L143.16 183.19 L143.76 184.83 L144.35 185.52 L144.95 185.41 L145.54 183.62 L146.14 182.53 L146.74 183.95 L147.33 185.91 L147.93 183.23 L148.52 185.12 L149.12 184.80 L149.72 184.14 L150.31 184.76 L150.91 185.39 L151.50 185.32 L152.10 186.88 L152.70 185.58 L153.29 184.99 L153.89 185.52 L154.48 184.35 L155.08 183.41 L155.68 184.16 L156.27 183.57 L156.87 183.96 L157.46 183.33 L158.06 184.37 L158.66 184.96 L159.25 183.62 L159.85 184.36 L160.44 184.02 L161.04 186.02 L161.64 187.34 L162.23 184.84 L162.83 184.08 L163.42 184.34 L164.02 184.60 L164.62 183.92 L165.21 184.29 L165.81 184.89 L166.40 185.70 L167.00 183.71 L167.60 182.94 L168.19 182.51 L168.79 182.16 L169.38 183.02 L169.98 183.52 L170.58 182.35 L171.17 184.45 L171.77 185.14 L172.36 183.67 L172.96 184.42 L173.56 183.69 L174.15 183.50 L174.75 183.10 L175.34 182.15 L175.94 183.48 L176.54 184.68 L177.13 183.68 L177.73 184.61 L178.32 183.34 L178.92 183.13 L179.52 183.40 L180.11 184.52 L180.71 185.28 L181.30 185.14 L181.90 184.73 L182.50 184.99 L183.09 183.68 L183.69 184.26 L184.28 183.65 L184.88 183.38 L185.48 183.91 L186.07 184.69 L186.67 184.72 L187.26 182.68 L187.86 182.51 L188.46 184.67 L189.05 184.66 L189.65 183.57 L190.24 181.71 L190.84 181.66 L191.44 183.97 L192.03 182.63 L192.63 183.18 L193.22 185.16 L193.82 185.90 L194.42 186.50 L195.01 183.76 L195.61 183.41 L196.20 183.62 L196.80 183.79 L197.40 184.01 L197.99 183.18 L198.59 181.78 L199.18 182.81 L199.78 184.40 L200.38 182.28 L200.97 181.76 L201.57 183.29 L202.16 182.80 L202.76 183.06 L203.36 182.70 L203.95 184.31 L204.55 184.90 L205.14 184.60 L205.74 183.16 L206.34 182.64 L206.93 182.27 L207.53 180.82 L208.12 183.17 L208.72 183.63 L209.32 185.08 L209.91 185.43 L210.51 183.22 L211.10 181.95 L211.70 182.69 L212.30 183.45 L212.89 182.23 L213.49 182.56 L214.08 182.99 L214.68 183.51 L215.28 183.71 L215.87 184.75 L216.47 182.54 L217.06 183.10 L217.66 183.42 L218.26 182.16 L218.85 182.93 L219.45 183.33 L220.04 183.21 L220.64 183.68 L221.24 182.94 L221.83 182.61 L222.43 183.35 L223.02 183.37 L223.62 185.10 L224.22 184.44 L224.81 183.94 L225.41 183.44 L226.00 182.63 L226.60 181.55 L227.20 181.38 L227.79 181.94 L228.39 184.62 L228.98 184.40 L229.58 180.75 L230.18 180.82 L230.77 181.19 L231.37 181.23 L231.96 182.41 L232.56 182.84 L233.16 183.17 L233.75 183.01 L234.35 182.34 L234.94 181.84 L235.54 181.75 L236.14 181.89 L236.73 182.62 L237.33 182.93 L237.92 181.58 L238.52 181.49 L239.12 182.47 L239.71 182.51 L240.31 181.63 L240.90 181.63 L241.50 182.73 L242.10 182.11 L242.69 182.68 L243.29 182.30 L243.88 183.37 L244.48 182.81 L245.08 181.91 L245.67 182.06 L246.27 181.57 L246.86 182.46 L247.46 183.16 L248.06 181.97 L248.65 180.88 L249.25 182.64 L249.84 182.46 L250.44 182.53 L251.04 183.54 L251.63 184.24 L252.23 183.93 L252.82 183.09 L253.42 184.17 L254.02 183.29 L254.61 183.03 L255.21 181.86 L255.80 183.00" fill="none" stroke="#ff7f0e" stroke-width="1.2" stroke-dasharray="2.9 1.3" stroke-linejoin="round"/>
<rect x="68.40" y="179.00" width="197.20" height="113.30" fill="none" stroke="#555555" stroke-width="0.9"/>
<line x1="77.60" y1="292.30" x2="77.60" y2="294.39" stroke="#555555" stroke-width="0.7"/>
<text transform="translate(77.60 302.96) scale(0.758 1)" text-anchor="middle" font-family="&quot;DejaVu Sans&quot;, &quot;Liberation Sans&quot;, sans-serif" font-size="7.77" fill="#2b2b2b" stroke="#2b2b2b" stroke-width="0.1">0</text>
<line x1="107.40" y1="292.30" x2="107.40" y2="294.39" stroke="#555555" stroke-width="0.7"/>
<text transform="translate(107.40 302.96) scale(0.758 1)" text-anchor="middle" font-family="&quot;DejaVu Sans&quot;, &quot;Liberation Sans&quot;, sans-serif" font-size="7.77" fill="#2b2b2b" stroke="#2b2b2b" stroke-width="0.1">50</text>
<line x1="137.20" y1="292.30" x2="137.20" y2="294.39" stroke="#555555" stroke-width="0.7"/>
<text transform="translate(137.20 302.96) scale(0.758 1)" text-anchor="middle" font-family="&quot;DejaVu Sans&quot;, &quot;Liberation Sans&quot;, sans-serif" font-size="7.77" fill="#2b2b2b" stroke="#2b2b2b" stroke-width="0.1">100</text>
<line x1="167.00" y1="292.30" x2="167.00" y2="294.39" stroke="#555555" stroke-width="0.7"/>
<text transform="translate(167.00 302.96) scale(0.758 1)" text-anchor="middle" font-family="&quot;DejaVu Sans&quot;, &quot;Liberation Sans&quot;, sans-serif" font-size="7.77" fill="#2b2b2b" stroke="#2b2b2b" stroke-width="0.1">150</text>
<line x1="196.80" y1="292.30" x2="196.80" y2="294.39" stroke="#555555" stroke-width="0.7"/>
<text transform="translate(196.80 302.96) scale(0.758 1)" text-anchor="middle" font-family="&quot;DejaVu Sans&quot;, &quot;Liberation Sans&quot;, sans-serif" font-size="7.77" fill="#2b2b2b" stroke="#2b2b2b" stroke-width="0.1">200</text>
<line x1="226.60" y1="292.30" x2="226.60" y2="294.39" stroke="#555555" stroke-width="0.7"/>
<text transform="translate(226.60 302.96) scale(0.758 1)" text-anchor="middle" font-family="&quot;DejaVu Sans&quot;, &quot;Liberation Sans&quot;, sans-serif" font-size="7.77" fill="#2b2b2b" stroke="#2b2b2b" stroke-width="0.1">250</text>
<line x1="256.40" y1="292.30" x2="256.40" y2="294.39" stroke="#555555" stroke-width="0.7"/>
<text transform="translate(256.40 302.96) scale(0.758 1)" text-anchor="middle" font-family="&quot;DejaVu Sans&quot;, &quot;Liberation Sans&quot;, sans-serif" font-size="7.77" fill="#2b2b2b" stroke="#2b2b2b" stroke-width="0.1">300</text>
<line x1="66.10" y1="292.30" x2="68.40" y2="292.30" stroke="#555555" stroke-width="0.7"/>
<text transform="translate(63.25 295.14) scale(0.758 1)" text-anchor="end" font-family="&quot;DejaVu Sans&quot;, &quot;Liberation Sans&quot;, sans-serif" font-size="7.77" fill="#2b2b2b" stroke="#2b2b2b" stroke-width="0.1">0.0</text>
<line x1="66.10" y1="269.66" x2="68.40" y2="269.66" stroke="#555555" stroke-width="0.7"/>
<text transform="translate(63.25 272.50) scale(0.758 1)" text-anchor="end" font-family="&quot;DejaVu Sans&quot;, &quot;Liberation Sans&quot;, sans-serif" font-size="7.77" fill="#2b2b2b" stroke="#2b2b2b" stroke-width="0.1">0.2</text>
<line x1="66.10" y1="247.02" x2="68.40" y2="247.02" stroke="#555555" stroke-width="0.7"/>
<text transform="translate(63.25 249.86) scale(0.758 1)" text-anchor="end" font-family="&quot;DejaVu Sans&quot;, &quot;Liberation Sans&quot;, sans-serif" font-size="7.77" fill="#2b2b2b" stroke="#2b2b2b" stroke-width="0.1">0.4</text>
<line x1="66.10" y1="224.38" x2="68.40" y2="224.38" stroke="#555555" stroke-width="0.7"/>
<text transform="translate(63.25 227.22) scale(0.758 1)" text-anchor="end" font-family="&quot;DejaVu Sans&quot;, &quot;Liberation Sans&quot;, sans-serif" font-size="7.77" fill="#2b2b2b" stroke="#2b2b2b" stroke-width="0.1">0.6</text>
<line x1="66.10" y1="201.74" x2="68.40" y2="201.74" stroke="#555555" stroke-width="0.7"/>
<text transform="translate(63.25 204.58) scale(0.758 1)" text-anchor="end" font-family="&quot;DejaVu Sans&quot;, &quot;Liberation Sans&quot;, sans-serif" font-size="7.77" fill="#2b2b2b" stroke="#2b2b2b" stroke-width="0.1">0.8</text>
<line x1="66.10" y1="179.10" x2="68.40" y2="179.10" stroke="#555555" stroke-width="0.7"/>
<text transform="translate(63.25 181.94) scale(0.758 1)" text-anchor="end" font-family="&quot;DejaVu Sans&quot;, &quot;Liberation Sans&quot;, sans-serif" font-size="7.77" fill="#2b2b2b" stroke="#2b2b2b" stroke-width="0.1">1.0</text>
<rect x="71.70" y="265.40" width="39.20" height="23.70" rx="1.6" fill="#fff" fill-opacity="0.8" stroke="#d0d0d0" stroke-width="0.8"/>
<line x1="74.00" y1="270.90" x2="87.40" y2="270.90" stroke="#1f77b4" stroke-width="1.2"/>
<line x1="74.00" y1="281.70" x2="87.40" y2="281.70" stroke="#ff7f0e" stroke-width="1.2" stroke-dasharray="2.9 1.3"/>
<text transform="translate(93.10 273.74) scale(0.758 1)" text-anchor="start" font-family="&quot;DejaVu Sans&quot;, &quot;Liberation Sans&quot;, sans-serif" font-size="7.77" fill="#2b2b2b" stroke="#2b2b2b" stroke-width="0.1">Train</text>
<text transform="translate(93.10 284.54) scale(0.758 1)" text-anchor="start" font-family="&quot;DejaVu Sans&quot;, &quot;Liberation Sans&quot;, sans-serif" font-size="7.77" fill="#2b2b2b" stroke="#2b2b2b" stroke-width="0.1">Val</text>
<text transform="translate(37.60 234.90) rotate(-90)" text-anchor="middle" font-family="&quot;Liberation Serif&quot;, &quot;Times New Roman&quot;, serif" font-size="11.1" fill="#2f5496" stroke="#2f5496" stroke-width="0.15">Accuracy</text>
<text transform="translate(163.20 314.60)" text-anchor="middle" font-family="&quot;Liberation Serif&quot;, &quot;Times New Roman&quot;, serif" font-size="11.2" fill="#2f5496" stroke="#2f5496" stroke-width="0.15">Epoch</text>
<text transform="translate(17.60 237.90)" text-anchor="middle" font-family="&quot;Liberation Serif&quot;, &quot;Times New Roman&quot;, serif" font-size="10.3" fill="#111" stroke="#111" stroke-width="0.15">(B)</text></g>
<g><path d="M332.60 182.72 L333.23 186.58 L333.86 191.52 L334.50 192.93 L335.13 195.05 L335.76 195.10 L336.39 198.18 L337.02 198.19 L337.66 198.89 L338.29 203.24 L338.92 205.12 L339.55 208.17 L340.18 210.43 L340.82 214.42 L341.45 216.09 L342.08 215.61 L342.71 217.39 L343.34 219.71 L343.98 223.32 L344.61 223.04 L345.24 224.69 L345.87 225.96 L346.50 226.32 L347.14 229.89 L347.77 233.13 L348.40 236.12 L349.03 237.29 L349.66 235.34 L350.30 237.78 L350.93 238.24 L351.56 237.22 L352.19 240.35 L352.82 240.71 L353.46 243.81 L354.09 242.03 L354.72 244.61 L355.35 240.96 L355.98 241.29 L356.62 240.80 L357.25 242.35 L357.88 243.72 L358.51 245.90 L359.14 246.84 L359.78 249.85 L360.41 251.23 L361.04 249.14 L361.67 246.90 L362.30 248.91 L362.94 250.52 L363.57 249.46 L364.20 250.78 L364.83 253.86 L365.46 252.88 L366.10 254.59 L366.73 255.15 L367.36 255.50 L367.99 255.43 L368.62 255.55 L369.26 253.69 L369.89 257.20 L370.52 260.55 L371.15 260.23 L371.78 255.36 L372.42 257.41 L373.05 259.90 L373.68 262.44 L374.31 261.97 L374.94 261.63 L375.58 259.41 L376.21 259.75 L376.84 259.98 L377.47 261.00 L378.10 251.90 L378.74 260.44 L379.37 260.98 L380.00 262.16 L380.63 261.79 L381.26 263.53 L381.90 264.37 L382.53 264.66 L383.16 260.48 L383.79 262.01 L384.42 264.87 L385.06 263.15 L385.69 264.41 L386.32 262.14 L386.95 261.18 L387.58 260.54 L388.22 259.78 L388.85 259.21 L389.48 261.45 L390.11 261.84 L390.74 264.46 L391.38 266.27 L392.01 262.97 L392.64 258.75 L393.27 263.78 L393.90 265.30 L394.54 268.12 L395.17 265.37 L395.80 263.33 L396.43 266.42 L397.06 266.84 L397.70 264.32 L398.33 258.54 L398.96 265.11 L399.59 264.69 L400.22 266.34 L400.86 266.03 L401.49 268.78 L402.12 265.14 L402.75 264.42 L403.38 268.09 L404.02 270.22 L404.65 268.35 L405.28 268.89 L405.91 269.47 L406.54 270.67 L407.18 265.91 L407.81 269.83 L408.44 272.55 L409.07 268.99 L409.70 267.74 L410.34 265.99 L410.97 267.72 L411.60 268.60 L412.23 264.75 L412.86 266.54 L413.50 268.62 L414.13 271.10 L414.76 271.11 L415.39 268.29 L416.02 269.90 L416.66 272.48 L417.29 273.17 L417.92 269.49 L418.55 272.95 L419.18 272.50 L419.82 270.85 L420.45 270.83 L421.08 271.60 L421.71 271.41 L422.34 272.22 L422.98 274.26 L423.61 273.79 L424.24 274.58 L424.87 272.82 L425.50 273.65 L426.14 273.84 L426.77 273.57 L427.40 276.05 L428.03 271.82 L428.66 269.70 L429.30 268.60 L429.93 268.78 L430.56 271.24 L431.19 270.69 L431.82 269.64 L432.46 268.67 L433.09 272.43 L433.72 270.98 L434.35 271.25 L434.98 272.89 L435.62 272.82 L436.25 270.76 L436.88 271.51 L437.51 272.35 L438.14 273.15 L438.78 274.59 L439.41 274.25 L440.04 272.94 L440.67 271.75 L441.30 270.68 L441.94 273.51 L442.57 273.23 L443.20 270.00 L443.83 271.97 L444.46 274.71 L445.10 275.29 L445.73 272.74 L446.36 272.54 L446.99 265.36 L447.62 271.87 L448.26 274.62 L448.89 277.30 L449.52 275.97 L450.15 273.78 L450.78 272.76 L451.42 272.15 L452.05 273.02 L452.68 273.94 L453.31 274.06 L453.94 275.34 L454.58 275.89 L455.21 273.37 L455.84 275.73 L456.47 274.23 L457.10 273.94 L457.74 274.00 L458.37 279.34 L459.00 276.39 L459.63 278.48 L460.26 277.82 L460.90 276.13 L461.53 275.32 L462.16 275.99 L462.79 275.91 L463.42 276.29 L464.06 277.41 L464.69 277.84 L465.32 276.91 L465.95 275.48 L466.58 274.22 L467.22 276.24 L467.85 275.54 L468.48 273.97 L469.11 274.23 L469.74 274.44 L470.38 272.64 L471.01 273.01 L471.64 271.41 L472.27 272.00 L472.90 273.89 L473.54 279.05 L474.17 274.35 L474.80 272.20 L475.43 276.58 L476.06 275.23 L476.70 272.87 L477.33 276.05 L477.96 274.69 L478.59 274.15 L479.22 276.53 L479.86 273.77 L480.49 272.99 L481.12 272.05 L481.75 273.10 L482.38 275.42 L483.02 275.56 L483.65 276.38 L484.28 277.19 L484.91 273.15 L485.54 275.48 L486.18 276.14 L486.81 277.83 L487.44 274.11 L488.07 275.92 L488.70 278.25 L489.34 278.78 L489.97 277.78 L490.60 277.25 L491.23 276.19 L491.86 275.27 L492.50 272.70 L493.13 273.22 L493.76 276.23 L494.39 277.06 L495.02 273.54 L495.66 272.19 L496.29 271.09 L496.92 272.45 L497.55 274.67 L498.18 275.82 L498.82 273.37 L499.45 276.43 L500.08 275.21 L500.71 276.04 L501.34 276.39 L501.98 275.95 L502.61 273.69 L503.24 273.43 L503.87 274.88 L504.50 274.16 L505.14 275.43 L505.77 275.72 L506.40 273.23 L507.03 278.37 L507.66 279.07 L508.30 276.53 L508.93 277.26 L509.56 279.81 L510.19 279.43 L510.82 276.50 L511.46 275.51 L512.09 277.32 L512.72 276.48 L513.35 277.14 L513.98 277.67 L514.62 276.25 L515.25 274.76 L515.88 276.90 L516.51 276.69 L517.14 280.03 L517.78 279.13 L518.41 275.21 L519.04 274.70 L519.67 274.83 L520.30 273.56 L520.94 275.73 L521.57 277.50" fill="none" stroke="#1f77b4" stroke-width="1.2" stroke-linejoin="round"/>
<path d="M332.60 190.86 L333.23 194.53 L333.86 198.64 L334.50 197.51 L335.13 196.10 L335.76 195.60 L336.39 198.56 L337.02 201.21 L337.66 204.50 L338.29 207.88 L338.92 209.14 L339.55 212.30 L340.18 215.67 L340.82 217.55 L341.45 220.03 L342.08 221.50 L342.71 224.29 L343.34 225.08 L343.98 225.28 L344.61 226.41 L345.24 229.43 L345.87 230.82 L346.50 233.12 L347.14 236.73 L347.77 237.00 L348.40 238.09 L349.03 238.74 L349.66 240.71 L350.30 242.58 L350.93 240.66 L351.56 242.53 L352.19 243.69 L352.82 244.38 L353.46 245.37 L354.09 247.22 L354.72 245.67 L355.35 247.86 L355.98 249.24 L356.62 249.21 L357.25 251.12 L357.88 250.05 L358.51 250.49 L359.14 251.59 L359.78 252.02 L360.41 251.23 L361.04 252.24 L361.67 252.96 L362.30 258.91 L362.94 257.25 L363.57 259.84 L364.20 261.44 L364.83 260.48 L365.46 259.79 L366.10 257.54 L366.73 257.35 L367.36 260.34 L367.99 262.96 L368.62 258.16 L369.26 259.62 L369.89 259.18 L370.52 258.83 L371.15 259.53 L371.78 262.42 L372.42 262.55 L373.05 264.58 L373.68 265.05 L374.31 265.14 L374.94 261.06 L375.58 263.28 L376.21 263.03 L376.84 263.36 L377.47 262.19 L378.10 265.95 L378.74 266.19 L379.37 268.63 L380.00 265.87 L380.63 265.08 L381.26 271.03 L381.90 267.12 L382.53 268.83 L383.16 271.65 L383.79 269.71 L384.42 270.86 L385.06 270.66 L385.69 269.84 L386.32 269.22 L386.95 273.08 L387.58 271.94 L388.22 271.61 L388.85 271.31 L389.48 272.63 L390.11 276.55 L390.74 271.67 L391.38 267.32 L392.01 266.48 L392.64 266.47 L393.27 267.50 L393.90 269.85 L394.54 271.13 L395.17 270.42 L395.80 271.04 L396.43 273.08 L397.06 270.23 L397.70 271.71 L398.33 271.47 L398.96 273.30 L399.59 272.75 L400.22 268.88 L400.86 268.33 L401.49 272.12 L402.12 271.86 L402.75 268.65 L403.38 273.49 L404.02 272.42 L404.65 269.96 L405.28 272.98 L405.91 275.77 L406.54 275.08 L407.18 277.94 L407.81 276.39 L408.44 270.63 L409.07 268.29 L409.70 273.08 L410.34 274.89 L410.97 274.70 L411.60 275.74 L412.23 277.45 L412.86 279.77 L413.50 274.85 L414.13 274.58 L414.76 280.71 L415.39 276.96 L416.02 275.68 L416.66 275.60 L417.29 274.41 L417.92 272.77 L418.55 275.14 L419.18 275.55 L419.82 274.41 L420.45 272.60 L421.08 275.14 L421.71 273.25 L422.34 276.21 L422.98 276.70 L423.61 277.33 L424.24 279.44 L424.87 275.91 L425.50 277.65 L426.14 279.68 L426.77 278.19 L427.40 275.60 L428.03 277.55 L428.66 277.36 L429.30 279.58 L429.93 277.65 L430.56 279.22 L431.19 279.16 L431.82 278.14 L432.46 263.18 L433.09 277.74 L433.72 278.22 L434.35 272.90 L434.98 269.89 L435.62 271.92 L436.25 273.33 L436.88 272.70 L437.51 274.33 L438.14 277.13 L438.78 276.88 L439.41 274.30 L440.04 276.44 L440.67 276.54 L441.30 274.28 L441.94 274.58 L442.57 274.65 L443.20 275.20 L443.83 272.80 L444.46 273.97 L445.10 279.88 L445.73 281.61 L446.36 277.16 L446.99 275.40 L447.62 277.56 L448.26 275.85 L448.89 275.07 L449.52 275.01 L450.15 275.13 L450.78 276.12 L451.42 276.32 L452.05 276.69 L452.68 275.05 L453.31 274.66 L453.94 277.78 L454.58 279.02 L455.21 278.35 L455.84 279.34 L456.47 280.22 L457.10 279.34 L457.74 281.80 L458.37 279.83 L459.00 275.27 L459.63 276.83 L460.26 278.77 L460.90 278.82 L461.53 277.89 L462.16 278.39 L462.79 280.96 L463.42 277.41 L464.06 273.68 L464.69 274.18 L465.32 276.59 L465.95 277.76 L466.58 278.25 L467.22 278.19 L467.85 276.03 L468.48 277.94 L469.11 273.85 L469.74 272.93 L470.38 273.52 L471.01 276.15 L471.64 280.03 L472.27 277.45 L472.90 276.60 L473.54 279.05 L474.17 279.67 L474.80 275.05 L475.43 275.89 L476.06 278.64 L476.70 272.27 L477.33 276.69 L477.96 277.00 L478.59 280.66 L479.22 278.62 L479.86 278.58 L480.49 280.14 L481.12 277.93 L481.75 280.01 L482.38 276.33 L483.02 276.27 L483.65 276.29 L484.28 276.38 L484.91 274.74 L485.54 278.03 L486.18 276.62 L486.81 276.81 L487.44 279.88 L488.07 281.51 L488.70 281.44 L489.34 278.16 L489.97 276.96 L490.60 279.75 L491.23 279.66 L491.86 275.23 L492.50 276.87 L493.13 280.00 L493.76 278.06 L494.39 279.42 L495.02 279.02 L495.66 278.52 L496.29 274.78 L496.92 276.28 L497.55 279.70 L498.18 278.31 L498.82 278.29 L499.45 275.92 L500.08 275.66 L500.71 273.73 L501.34 277.38 L501.98 277.76 L502.61 279.29 L503.24 276.74 L503.87 269.70 L504.50 278.16 L505.14 279.53 L505.77 278.05 L506.40 276.87 L507.03 277.05 L507.66 277.54 L508.30 277.82 L508.93 279.45 L509.56 281.24 L510.19 278.61 L510.82 278.22 L511.46 281.20 L512.09 280.10 L512.72 278.98 L513.35 281.70 L513.98 284.98 L514.62 281.39 L515.25 281.60 L515.88 280.04 L516.51 278.98 L517.14 280.77 L517.78 278.15 L518.41 279.40 L519.04 278.56 L519.67 279.78 L520.30 281.96 L520.94 279.05 L521.57 277.12" fill="none" stroke="#ff7f0e" stroke-width="1.2" stroke-dasharray="2.9 1.3" stroke-linejoin="round"/>
<rect x="323.00" y="179.20" width="209.00" height="109.40" fill="none" stroke="#555555" stroke-width="0.9"/>
<line x1="332.60" y1="288.60" x2="332.60" y2="290.61" stroke="#555555" stroke-width="0.7"/>
<text transform="translate(332.60 298.89) scale(0.823 1)" text-anchor="middle" font-family="&quot;DejaVu Sans&quot;, &quot;Liberation Sans&quot;, sans-serif" font-size="7.51" fill="#2b2b2b" stroke="#2b2b2b" stroke-width="0.1">0</text>
<line x1="364.20" y1="288.60" x2="364.20" y2="290.61" stroke="#555555" stroke-width="0.7"/>
<text transform="translate(364.20 298.89) scale(0.823 1)" text-anchor="middle" font-family="&quot;DejaVu Sans&quot;, &quot;Liberation Sans&quot;, sans-serif" font-size="7.51" fill="#2b2b2b" stroke="#2b2b2b" stroke-width="0.1">50</text>
<line x1="395.80" y1="288.60" x2="395.80" y2="290.61" stroke="#555555" stroke-width="0.7"/>
<text transform="translate(395.80 298.89) scale(0.823 1)" text-anchor="middle" font-family="&quot;DejaVu Sans&quot;, &quot;Liberation Sans&quot;, sans-serif" font-size="7.51" fill="#2b2b2b" stroke="#2b2b2b" stroke-width="0.1">100</text>
<line x1="427.40" y1="288.60" x2="427.40" y2="290.61" stroke="#555555" stroke-width="0.7"/>
<text transform="translate(427.40 298.89) scale(0.823 1)" text-anchor="middle" font-family="&quot;DejaVu Sans&quot;, &quot;Liberation Sans&quot;, sans-serif" font-size="7.51" fill="#2b2b2b" stroke="#2b2b2b" stroke-width="0.1">150</text>
<line x1="459.00" y1="288.60" x2="459.00" y2="290.61" stroke="#555555" stroke-width="0.7"/>
<text transform="translate(459.00 298.89) scale(0.823 1)" text-anchor="middle" font-family="&quot;DejaVu Sans&quot;, &quot;Liberation Sans&quot;, sans-serif" font-size="7.51" fill="#2b2b2b" stroke="#2b2b2b" stroke-width="0.1">200</text>
<line x1="490.60" y1="288.60" x2="490.60" y2="290.61" stroke="#555555" stroke-width="0.7"/>
<text transform="translate(490.60 298.89) scale(0.823 1)" text-anchor="middle" font-family="&quot;DejaVu Sans&quot;, &quot;Liberation Sans&quot;, sans-serif" font-size="7.51" fill="#2b2b2b" stroke="#2b2b2b" stroke-width="0.1">250</text>
<line x1="522.20" y1="288.60" x2="522.20" y2="290.61" stroke="#555555" stroke-width="0.7"/>
<text transform="translate(522.20 298.89) scale(0.823 1)" text-anchor="middle" font-family="&quot;DejaVu Sans&quot;, &quot;Liberation Sans&quot;, sans-serif" font-size="7.51" fill="#2b2b2b" stroke="#2b2b2b" stroke-width="0.1">300</text>
<line x1="320.70" y1="288.60" x2="323.00" y2="288.60" stroke="#555555" stroke-width="0.7"/>
<text transform="translate(317.54 291.34) scale(0.823 1)" text-anchor="end" font-family="&quot;DejaVu Sans&quot;, &quot;Liberation Sans&quot;, sans-serif" font-size="7.51" fill="#2b2b2b" stroke="#2b2b2b" stroke-width="0.1">0.0</text>
<line x1="320.70" y1="270.50" x2="323.00" y2="270.50" stroke="#555555" stroke-width="0.7"/>
<text transform="translate(317.54 273.24) scale(0.823 1)" text-anchor="end" font-family="&quot;DejaVu Sans&quot;, &quot;Liberation Sans&quot;, sans-serif" font-size="7.51" fill="#2b2b2b" stroke="#2b2b2b" stroke-width="0.1">0.2</text>
<line x1="320.70" y1="252.40" x2="323.00" y2="252.40" stroke="#555555" stroke-width="0.7"/>
<text transform="translate(317.54 255.14) scale(0.823 1)" text-anchor="end" font-family="&quot;DejaVu Sans&quot;, &quot;Liberation Sans&quot;, sans-serif" font-size="7.51" fill="#2b2b2b" stroke="#2b2b2b" stroke-width="0.1">0.4</text>
<line x1="320.70" y1="234.30" x2="323.00" y2="234.30" stroke="#555555" stroke-width="0.7"/>
<text transform="translate(317.54 237.04) scale(0.823 1)" text-anchor="end" font-family="&quot;DejaVu Sans&quot;, &quot;Liberation Sans&quot;, sans-serif" font-size="7.51" fill="#2b2b2b" stroke="#2b2b2b" stroke-width="0.1">0.6</text>
<line x1="320.70" y1="216.20" x2="323.00" y2="216.20" stroke="#555555" stroke-width="0.7"/>
<text transform="translate(317.54 218.94) scale(0.823 1)" text-anchor="end" font-family="&quot;DejaVu Sans&quot;, &quot;Liberation Sans&quot;, sans-serif" font-size="7.51" fill="#2b2b2b" stroke="#2b2b2b" stroke-width="0.1">0.8</text>
<line x1="320.70" y1="198.10" x2="323.00" y2="198.10" stroke="#555555" stroke-width="0.7"/>
<text transform="translate(317.54 200.84) scale(0.823 1)" text-anchor="end" font-family="&quot;DejaVu Sans&quot;, &quot;Liberation Sans&quot;, sans-serif" font-size="7.51" fill="#2b2b2b" stroke="#2b2b2b" stroke-width="0.1">1.0</text>
<line x1="320.70" y1="180.00" x2="323.00" y2="180.00" stroke="#555555" stroke-width="0.7"/>
<text transform="translate(317.54 182.74) scale(0.823 1)" text-anchor="end" font-family="&quot;DejaVu Sans&quot;, &quot;Liberation Sans&quot;, sans-serif" font-size="7.51" fill="#2b2b2b" stroke="#2b2b2b" stroke-width="0.1">1.2</text>
<rect x="487.10" y="182.10" width="41.40" height="22.90" rx="1.6" fill="#fff" fill-opacity="0.8" stroke="#d0d0d0" stroke-width="0.8"/>
<line x1="489.00" y1="187.80" x2="503.60" y2="187.80" stroke="#1f77b4" stroke-width="1.2"/>
<line x1="489.00" y1="198.30" x2="503.60" y2="198.30" stroke="#ff7f0e" stroke-width="1.2" stroke-dasharray="2.9 1.3"/>
<text transform="translate(508.70 190.54) scale(0.823 1)" text-anchor="start" font-family="&quot;DejaVu Sans&quot;, &quot;Liberation Sans&quot;, sans-serif" font-size="7.51" fill="#2b2b2b" stroke="#2b2b2b" stroke-width="0.1">Train</text>
<text transform="translate(508.70 201.04) scale(0.823 1)" text-anchor="start" font-family="&quot;DejaVu Sans&quot;, &quot;Liberation Sans&quot;, sans-serif" font-size="7.51" fill="#2b2b2b" stroke="#2b2b2b" stroke-width="0.1">Val</text>
<text transform="translate(292.60 242.50) rotate(-90)" text-anchor="middle" font-family="&quot;Liberation Serif&quot;, &quot;Times New Roman&quot;, serif" font-size="11.1" fill="#2f5496" stroke="#2f5496" stroke-width="0.15">Loss</text>
<text transform="translate(425.50 314.10)" text-anchor="middle" font-family="&quot;Liberation Serif&quot;, &quot;Times New Roman&quot;, serif" font-size="11.2" fill="#2f5496" stroke="#2f5496" stroke-width="0.15">Epoch</text></g>
<g><path d="M81.20 391.49 L81.79 390.80 L82.38 387.78 L82.97 384.40 L83.56 385.90 L84.14 387.53 L84.73 382.04 L85.32 388.76 L85.91 381.48 L86.50 374.05 L87.09 372.70 L87.68 372.98 L88.27 371.37 L88.86 368.72 L89.45 374.12 L90.03 371.62 L90.62 371.57 L91.21 376.37 L91.80 369.90 L92.39 370.59 L92.98 370.91 L93.57 368.15 L94.16 368.01 L94.75 369.86 L95.34 370.79 L95.92 364.95 L96.51 363.62 L97.10 366.68 L97.69 373.53 L98.28 368.94 L98.87 363.65 L99.46 369.87 L100.05 371.40 L100.64 364.91 L101.23 362.75 L101.81 360.62 L102.40 360.81 L102.99 359.37 L103.58 357.20 L104.17 363.84 L104.76 363.88 L105.35 364.70 L105.94 359.99 L106.53 362.74 L107.12 361.05 L107.70 360.93 L108.29 360.46 L108.88 362.71 L109.47 359.53 L110.06 359.52 L110.65 363.68 L111.24 364.40 L111.83 365.08 L112.42 364.46 L113.01 361.91 L113.59 360.51 L114.18 358.38 L114.77 357.36 L115.36 356.25 L115.95 356.89 L116.54 361.74 L117.13 363.00 L117.72 357.24 L118.31 352.96 L118.90 352.87 L119.48 354.75 L120.07 357.25 L120.66 353.65 L121.25 353.82 L121.84 357.29 L122.43 358.30 L123.02 352.12 L123.61 354.34 L124.20 353.10 L124.79 352.84 L125.38 354.03 L125.96 352.62 L126.55 351.31 L127.14 349.71 L127.73 352.05 L128.32 352.79 L128.91 351.39 L129.50 350.79 L130.09 349.55 L130.68 349.46 L131.26 350.92 L131.85 350.97 L132.44 348.11 L133.03 349.46 L133.62 349.22 L134.21 347.35 L134.80 346.01 L135.39 345.72 L135.98 348.95 L136.57 347.88 L137.16 347.12 L137.74 348.32 L138.33 345.05 L138.92 343.89 L139.51 344.97 L140.10 345.22 L140.69 343.59 L141.28 345.51 L141.87 349.97 L142.46 346.19 L143.05 342.59 L143.63 340.82 L144.22 342.52 L144.81 342.24 L145.40 342.73 L145.99 341.14 L146.58 342.51 L147.17 342.83 L147.76 343.01 L148.35 343.36 L148.94 343.03 L149.52 345.75 L150.11 345.41 L150.70 345.10 L151.29 340.35 L151.88 340.76 L152.47 343.39 L153.06 344.08 L153.65 341.64 L154.24 344.61 L154.82 340.59 L155.41 340.81 L156.00 338.59 L156.59 339.29 L157.18 339.38 L157.77 345.18 L158.36 342.01 L158.95 341.46 L159.54 339.75 L160.13 339.24 L160.72 336.92 L161.30 340.13 L161.89 342.11 L162.48 341.33 L163.07 338.79 L163.66 339.54 L164.25 338.05 L164.84 342.59 L165.43 341.87 L166.02 339.39 L166.61 339.46 L167.19 338.48 L167.78 340.33 L168.37 338.02 L168.96 338.52 L169.55 337.31 L170.14 339.53 L170.73 337.60 L171.32 335.51 L171.91 335.21 L172.50 336.43 L173.08 337.45 L173.67 339.23 L174.26 338.11 L174.85 337.13 L175.44 336.92 L176.03 338.27 L176.62 337.46 L177.21 337.85 L177.80 338.76 L178.38 341.18 L178.97 339.42 L179.56 337.18 L180.15 339.24 L180.74 340.27 L181.33 338.78 L181.92 334.70 L182.51 333.72 L183.10 339.64 L183.69 339.70 L184.27 337.74 L184.86 336.66 L185.45 338.13 L186.04 336.31 L186.63 338.00 L187.22 337.95 L187.81 337.71 L188.40 337.71 L188.99 335.50 L189.58 338.30 L190.16 336.89 L190.75 336.76 L191.34 338.67 L191.93 336.45 L192.52 336.35 L193.11 335.92 L193.70 337.17 L194.29 337.30 L194.88 335.49 L195.47 335.10 L196.06 335.08 L196.64 337.89 L197.23 336.25 L197.82 337.58 L198.41 338.10 L199.00 338.81 L199.59 336.62 L200.18 336.80 L200.77 335.57 L201.36 333.13 L201.94 333.10 L202.53 332.03 L203.12 329.22 L203.71 330.42 L204.30 335.79 L204.89 336.83 L205.48 335.91 L206.07 332.29 L206.66 334.33 L207.25 334.69 L207.83 333.38 L208.42 331.91 L209.01 334.07 L209.60 335.72 L210.19 336.41 L210.78 335.76 L211.37 335.66 L211.96 335.91 L212.55 336.44 L213.14 336.57 L213.73 335.02 L214.31 329.78 L214.90 331.28 L215.49 330.88 L216.08 337.61 L216.67 336.94 L217.26 333.93 L217.85 332.95 L218.44 333.17 L219.03 333.21 L219.62 333.53 L220.20 335.33 L220.79 334.39 L221.38 333.39 L221.97 334.30 L222.56 334.56 L223.15 333.87 L223.74 335.35 L224.33 337.73 L224.92 337.68 L225.50 333.94 L226.09 332.71 L226.68 334.00 L227.27 331.92 L227.86 331.91 L228.45 332.03 L229.04 331.15 L229.63 332.76 L230.22 332.91 L230.81 333.86 L231.39 332.97 L231.98 332.70 L232.57 335.94 L233.16 337.50 L233.75 334.07 L234.34 332.74 L234.93 330.12 L235.52 330.60 L236.11 332.17 L236.70 332.70 L237.28 333.55 L237.87 332.78 L238.46 333.46 L239.05 333.04 L239.64 333.93 L240.23 335.05 L240.82 331.66 L241.41 332.10 L242.00 331.05 L242.59 332.58 L243.18 333.19 L243.76 336.67 L244.35 333.84 L244.94 333.13 L245.53 334.08 L246.12 332.46 L246.71 330.69 L247.30 331.54 L247.89 328.42 L248.48 329.21 L249.06 331.73 L249.65 331.93 L250.24 330.76 L250.83 331.59 L251.42 332.88 L252.01 332.86 L252.60 331.22 L253.19 333.45 L253.78 332.86 L254.37 333.22 L254.95 333.54 L255.54 330.49 L256.13 332.41 L256.72 334.93 L257.31 335.98" fill="none" stroke="#1f77b4" stroke-width="1.2" stroke-linejoin="round"/>
<path d="M81.20 392.81 L81.79 392.67 L82.38 390.28 L82.97 385.72 L83.56 386.19 L84.14 385.88 L84.73 382.32 L85.32 384.58 L85.91 384.75 L86.50 383.39 L87.09 385.51 L87.68 384.89 L88.27 383.42 L88.86 382.82 L89.45 382.90 L90.03 381.36 L90.62 380.00 L91.21 379.26 L91.80 383.86 L92.39 383.84 L92.98 383.35 L93.57 375.26 L94.16 372.48 L94.75 370.19 L95.34 371.64 L95.92 372.62 L96.51 371.77 L97.10 371.77 L97.69 371.93 L98.28 373.87 L98.87 374.08 L99.46 372.02 L100.05 371.00 L100.64 368.17 L101.23 368.33 L101.81 368.47 L102.40 368.05 L102.99 366.60 L103.58 367.66 L104.17 366.27 L104.76 368.66 L105.35 370.40 L105.94 368.65 L106.53 366.62 L107.12 366.48 L107.70 364.99 L108.29 363.97 L108.88 362.41 L109.47 361.70 L110.06 362.46 L110.65 360.12 L111.24 359.40 L111.83 358.28 L112.42 357.34 L113.01 357.32 L113.59 353.87 L114.18 355.06 L114.77 357.87 L115.36 357.50 L115.95 358.04 L116.54 355.16 L117.13 355.20 L117.72 356.44 L118.31 354.66 L118.90 353.68 L119.48 353.69 L120.07 355.39 L120.66 354.80 L121.25 352.84 L121.84 352.41 L122.43 349.35 L123.02 350.57 L123.61 347.55 L124.20 348.23 L124.79 347.36 L125.38 348.99 L125.96 348.00 L126.55 348.00 L127.14 347.29 L127.73 343.07 L128.32 343.11 L128.91 345.99 L129.50 346.39 L130.09 346.33 L130.68 347.48 L131.26 345.65 L131.85 342.94 L132.44 344.28 L133.03 343.85 L133.62 340.74 L134.21 341.26 L134.80 343.33 L135.39 341.58 L135.98 340.62 L136.57 339.96 L137.16 340.56 L137.74 340.88 L138.33 340.06 L138.92 340.66 L139.51 341.88 L140.10 341.64 L140.69 340.30 L141.28 339.51 L141.87 338.53 L142.46 340.27 L143.05 338.33 L143.63 337.45 L144.22 337.54 L144.81 337.96 L145.40 337.36 L145.99 337.93 L146.58 336.05 L147.17 337.22 L147.76 337.63 L148.35 336.81 L148.94 336.20 L149.52 335.66 L150.11 336.44 L150.70 338.54 L151.29 337.05 L151.88 336.97 L152.47 335.12 L153.06 332.74 L153.65 331.98 L154.24 332.91 L154.82 334.79 L155.41 332.57 L156.00 332.66 L156.59 333.78 L157.18 336.44 L157.77 335.36 L158.36 336.35 L158.95 336.66 L159.54 337.20 L160.13 335.92 L160.72 335.22 L161.30 333.87 L161.89 333.18 L162.48 334.82 L163.07 336.45 L163.66 337.68 L164.25 336.71 L164.84 335.86 L165.43 334.04 L166.02 333.92 L166.61 335.33 L167.19 335.80 L167.78 333.49 L168.37 333.36 L168.96 332.20 L169.55 333.82 L170.14 332.87 L170.73 332.97 L171.32 335.16 L171.91 335.45 L172.50 335.63 L173.08 333.89 L173.67 334.49 L174.26 335.76 L174.85 333.52 L175.44 333.89 L176.03 333.26 L176.62 333.49 L177.21 337.53 L177.80 335.92 L178.38 334.95 L178.97 334.64 L179.56 333.66 L180.15 333.90 L180.74 335.55 L181.33 332.08 L181.92 332.87 L182.51 332.93 L183.10 334.01 L183.69 334.65 L184.27 332.70 L184.86 332.06 L185.45 332.20 L186.04 332.99 L186.63 334.60 L187.22 333.26 L187.81 333.25 L188.40 331.25 L188.99 329.80 L189.58 331.63 L190.16 333.29 L190.75 333.64 L191.34 333.24 L191.93 332.67 L192.52 331.43 L193.11 334.25 L193.70 333.61 L194.29 333.44 L194.88 332.67 L195.47 331.08 L196.06 331.60 L196.64 331.42 L197.23 331.84 L197.82 332.20 L198.41 331.18 L199.00 331.16 L199.59 332.37 L200.18 332.70 L200.77 334.23 L201.36 333.67 L201.94 330.84 L202.53 332.22 L203.12 333.89 L203.71 334.53 L204.30 333.30 L204.89 330.90 L205.48 331.49 L206.07 331.64 L206.66 332.44 L207.25 332.21 L207.83 332.23 L208.42 330.59 L209.01 330.98 L209.60 330.76 L210.19 331.69 L210.78 332.11 L211.37 332.52 L211.96 332.84 L212.55 332.36 L213.14 333.07 L213.73 331.95 L214.31 331.58 L214.90 330.85 L215.49 330.42 L216.08 331.70 L216.67 331.36 L217.26 329.72 L217.85 330.24 L218.44 329.72 L219.03 329.68 L219.62 330.54 L220.20 331.55 L220.79 330.73 L221.38 330.38 L221.97 331.45 L222.56 330.98 L223.15 331.75 L223.74 332.29 L224.33 332.34 L224.92 330.82 L225.50 331.16 L226.09 331.37 L226.68 328.42 L227.27 329.44 L227.86 329.78 L228.45 331.91 L229.04 331.25 L229.63 329.84 L230.22 329.48 L230.81 330.02 L231.39 329.83 L231.98 330.28 L232.57 330.79 L233.16 330.82 L233.75 329.81 L234.34 328.38 L234.93 329.22 L235.52 329.59 L236.11 330.99 L236.70 330.65 L237.28 330.65 L237.87 329.68 L238.46 329.96 L239.05 331.45 L239.64 330.33 L240.23 330.08 L240.82 330.75 L241.41 331.36 L242.00 331.88 L242.59 329.58 L243.18 329.44 L243.76 329.81 L244.35 329.06 L244.94 329.86 L245.53 330.52 L246.12 329.81 L246.71 329.58 L247.30 329.48 L247.89 328.85 L248.48 328.65 L249.06 329.55 L249.65 329.49 L250.24 329.76 L250.83 331.71 L251.42 330.49 L252.01 330.49 L252.60 329.53 L253.19 329.54 L253.78 329.00 L254.37 329.57 L254.95 328.77 L255.54 329.74 L256.13 328.73 L256.72 327.91 L257.31 328.28" fill="none" stroke="#ff7f0e" stroke-width="1.2" stroke-dasharray="2.9 1.3" stroke-linejoin="round"/>
<rect x="72.40" y="326.50" width="194.00" height="101.80" fill="none" stroke="#555555" stroke-width="0.9"/>
<line x1="81.20" y1="428.30" x2="81.20" y2="430.17" stroke="#555555" stroke-width="0.7"/>
<text transform="translate(81.20 437.88) scale(0.819 1)" text-anchor="middle" font-family="&quot;DejaVu Sans&quot;, &quot;Liberation Sans&quot;, sans-serif" font-size="6.99" fill="#2b2b2b" stroke="#2b2b2b" stroke-width="0.1">0</text>
<line x1="110.65" y1="428.30" x2="110.65" y2="430.17" stroke="#555555" stroke-width="0.7"/>
<text transform="translate(110.65 437.88) scale(0.819 1)" text-anchor="middle" font-family="&quot;DejaVu Sans&quot;, &quot;Liberation Sans&quot;, sans-serif" font-size="6.99" fill="#2b2b2b" stroke="#2b2b2b" stroke-width="0.1">50</text>
<line x1="140.10" y1="428.30" x2="140.10" y2="430.17" stroke="#555555" stroke-width="0.7"/>
<text transform="translate(140.10 437.88) scale(0.819 1)" text-anchor="middle" font-family="&quot;DejaVu Sans&quot;, &quot;Liberation Sans&quot;, sans-serif" font-size="6.99" fill="#2b2b2b" stroke="#2b2b2b" stroke-width="0.1">100</text>
<line x1="169.55" y1="428.30" x2="169.55" y2="430.17" stroke="#555555" stroke-width="0.7"/>
<text transform="translate(169.55 437.88) scale(0.819 1)" text-anchor="middle" font-family="&quot;DejaVu Sans&quot;, &quot;Liberation Sans&quot;, sans-serif" font-size="6.99" fill="#2b2b2b" stroke="#2b2b2b" stroke-width="0.1">150</text>
<line x1="199.00" y1="428.30" x2="199.00" y2="430.17" stroke="#555555" stroke-width="0.7"/>
<text transform="translate(199.00 437.88) scale(0.819 1)" text-anchor="middle" font-family="&quot;DejaVu Sans&quot;, &quot;Liberation Sans&quot;, sans-serif" font-size="6.99" fill="#2b2b2b" stroke="#2b2b2b" stroke-width="0.1">200</text>
<line x1="228.45" y1="428.30" x2="228.45" y2="430.17" stroke="#555555" stroke-width="0.7"/>
<text transform="translate(228.45 437.88) scale(0.819 1)" text-anchor="middle" font-family="&quot;DejaVu Sans&quot;, &quot;Liberation Sans&quot;, sans-serif" font-size="6.99" fill="#2b2b2b" stroke="#2b2b2b" stroke-width="0.1">250</text>
<line x1="257.90" y1="428.30" x2="257.90" y2="430.17" stroke="#555555" stroke-width="0.7"/>
<text transform="translate(257.90 437.88) scale(0.819 1)" text-anchor="middle" font-family="&quot;DejaVu Sans&quot;, &quot;Liberation Sans&quot;, sans-serif" font-size="6.99" fill="#2b2b2b" stroke="#2b2b2b" stroke-width="0.1">300</text>
<line x1="70.10" y1="428.30" x2="72.40" y2="428.30" stroke="#555555" stroke-width="0.7"/>
<text transform="translate(67.33 430.85) scale(0.819 1)" text-anchor="end" font-family="&quot;DejaVu Sans&quot;, &quot;Liberation Sans&quot;, sans-serif" font-size="6.99" fill="#2b2b2b" stroke="#2b2b2b" stroke-width="0.1">0.0</text>
<line x1="70.10" y1="408.02" x2="72.40" y2="408.02" stroke="#555555" stroke-width="0.7"/>
<text transform="translate(67.33 410.57) scale(0.819 1)" text-anchor="end" font-family="&quot;DejaVu Sans&quot;, &quot;Liberation Sans&quot;, sans-serif" font-size="6.99" fill="#2b2b2b" stroke="#2b2b2b" stroke-width="0.1">0.2</text>
<line x1="70.10" y1="387.74" x2="72.40" y2="387.74" stroke="#555555" stroke-width="0.7"/>
<text transform="translate(67.33 390.29) scale(0.819 1)" text-anchor="end" font-family="&quot;DejaVu Sans&quot;, &quot;Liberation Sans&quot;, sans-serif" font-size="6.99" fill="#2b2b2b" stroke="#2b2b2b" stroke-width="0.1">0.4</text>
<line x1="70.10" y1="367.46" x2="72.40" y2="367.46" stroke="#555555" stroke-width="0.7"/>
<text transform="translate(67.33 370.01) scale(0.819 1)" text-anchor="end" font-family="&quot;DejaVu Sans&quot;, &quot;Liberation Sans&quot;, sans-serif" font-size="6.99" fill="#2b2b2b" stroke="#2b2b2b" stroke-width="0.1">0.6</text>
<line x1="70.10" y1="347.18" x2="72.40" y2="347.18" stroke="#555555" stroke-width="0.7"/>
<text transform="translate(67.33 349.73) scale(0.819 1)" text-anchor="end" font-family="&quot;DejaVu Sans&quot;, &quot;Liberation Sans&quot;, sans-serif" font-size="6.99" fill="#2b2b2b" stroke="#2b2b2b" stroke-width="0.1">0.8</text>
<line x1="70.10" y1="326.90" x2="72.40" y2="326.90" stroke="#555555" stroke-width="0.7"/>
<text transform="translate(67.33 329.45) scale(0.819 1)" text-anchor="end" font-family="&quot;DejaVu Sans&quot;, &quot;Liberation Sans&quot;, sans-serif" font-size="6.99" fill="#2b2b2b" stroke="#2b2b2b" stroke-width="0.1">1.0</text>
<rect x="75.30" y="329.40" width="39.20" height="21.20" rx="1.6" fill="#fff" fill-opacity="0.8" stroke="#d0d0d0" stroke-width="0.8"/>
<line x1="77.80" y1="334.50" x2="91.20" y2="334.50" stroke="#1f77b4" stroke-width="1.2"/>
<line x1="77.80" y1="344.00" x2="91.20" y2="344.00" stroke="#ff7f0e" stroke-width="1.2" stroke-dasharray="2.9 1.3"/>
<text transform="translate(96.70 337.05) scale(0.819 1)" text-anchor="start" font-family="&quot;DejaVu Sans&quot;, &quot;Liberation Sans&quot;, sans-serif" font-size="6.99" fill="#2b2b2b" stroke="#2b2b2b" stroke-width="0.1">Train</text>
<text transform="translate(96.70 346.55) scale(0.819 1)" text-anchor="start" font-family="&quot;DejaVu Sans&quot;, &quot;Liberation Sans&quot;, sans-serif" font-size="6.99" fill="#2b2b2b" stroke="#2b2b2b" stroke-width="0.1">Val</text>
<text transform="translate(34.10 380.00) rotate(-90)" text-anchor="middle" font-family="&quot;Liberation Serif&quot;, &quot;Times New Roman&quot;, serif" font-size="11.1" fill="#2f5496" stroke="#2f5496" stroke-width="0.15">Accuracy</text>
<text transform="translate(163.00 454.60)" text-anchor="middle" font-family="&quot;Liberation Serif&quot;, &quot;Times New Roman&quot;, serif" font-size="11.2" fill="#2f5496" stroke="#2f5496" stroke-width="0.15">Epoch</text>
<text transform="translate(13.00 383.40)" text-anchor="middle" font-family="&quot;Liberation Serif&quot;, &quot;Times New Roman&quot;, serif" font-size="10.3" fill="#111" stroke="#111" stroke-width="0.15">(C)</text></g>
<g><path d="M333.40 330.87 L334.04 336.37 L334.67 340.29 L335.31 339.19 L335.95 339.64 L336.58 340.05 L337.22 341.16 L337.86 340.55 L338.50 343.83 L339.13 342.32 L339.77 342.27 L340.41 343.64 L341.04 345.52 L341.68 344.80 L342.32 346.97 L342.95 343.44 L343.59 344.64 L344.23 346.25 L344.87 348.35 L345.50 346.92 L346.14 348.49 L346.78 346.48 L347.41 348.12 L348.05 347.62 L348.69 350.35 L349.32 350.53 L349.96 354.31 L350.60 354.70 L351.24 352.46 L351.87 354.89 L352.51 354.64 L353.15 354.73 L353.78 355.62 L354.42 354.72 L355.06 356.89 L355.69 355.99 L356.33 354.79 L356.97 358.90 L357.61 356.41 L358.24 357.77 L358.88 359.01 L359.52 359.81 L360.15 360.90 L360.79 359.81 L361.43 361.55 L362.06 360.04 L362.70 361.87 L363.34 365.98 L363.98 364.48 L364.61 362.73 L365.25 360.90 L365.89 360.92 L366.52 361.05 L367.16 363.67 L367.80 362.96 L368.44 364.62 L369.07 366.78 L369.71 368.67 L370.35 368.26 L370.98 369.94 L371.62 370.04 L372.26 371.43 L372.89 370.22 L373.53 367.46 L374.17 373.80 L374.80 370.01 L375.44 372.83 L376.08 373.12 L376.72 373.25 L377.35 369.45 L377.99 369.99 L378.63 371.07 L379.26 371.03 L379.90 369.83 L380.54 368.18 L381.17 373.10 L381.81 379.29 L382.45 380.12 L383.09 379.43 L383.72 374.33 L384.36 379.89 L385.00 376.10 L385.63 373.50 L386.27 378.49 L386.91 382.15 L387.54 378.01 L388.18 379.90 L388.82 380.68 L389.46 379.30 L390.09 382.76 L390.73 380.59 L391.37 377.26 L392.00 382.03 L392.64 383.59 L393.28 381.26 L393.91 380.22 L394.55 384.93 L395.19 382.26 L395.83 382.77 L396.46 383.23 L397.10 382.38 L397.74 387.55 L398.37 386.50 L399.01 383.43 L399.65 385.58 L400.28 386.81 L400.92 379.93 L401.56 380.05 L402.20 384.58 L402.83 384.98 L403.47 390.21 L404.11 392.57 L404.74 388.06 L405.38 389.50 L406.02 386.57 L406.65 389.21 L407.29 386.41 L407.93 388.12 L408.57 388.03 L409.20 393.14 L409.84 389.99 L410.48 391.17 L411.11 389.54 L411.75 392.16 L412.39 393.40 L413.02 393.42 L413.66 393.49 L414.30 387.34 L414.94 390.20 L415.57 391.35 L416.21 390.16 L416.85 392.27 L417.48 393.26 L418.12 388.80 L418.76 389.81 L419.39 389.25 L420.03 392.93 L420.67 390.84 L421.31 394.14 L421.94 395.87 L422.58 392.27 L423.22 392.80 L423.85 397.11 L424.49 400.41 L425.13 396.39 L425.76 394.48 L426.40 392.75 L427.04 395.47 L427.68 392.88 L428.31 390.88 L428.95 397.72 L429.59 398.69 L430.22 397.18 L430.86 395.31 L431.50 396.87 L432.13 396.88 L432.77 396.66 L433.41 399.87 L434.05 398.29 L434.68 399.28 L435.32 397.95 L435.96 398.22 L436.59 400.10 L437.23 396.86 L437.87 391.68 L438.50 391.28 L439.14 395.17 L439.78 394.39 L440.42 396.38 L441.05 398.01 L441.69 397.22 L442.33 399.26 L442.96 400.90 L443.60 400.01 L444.24 399.08 L444.88 401.33 L445.51 400.60 L446.15 403.34 L446.79 403.74 L447.42 400.95 L448.06 401.10 L448.70 397.71 L449.33 401.16 L449.97 403.65 L450.61 406.35 L451.25 401.92 L451.88 399.07 L452.52 400.02 L453.16 401.38 L453.79 401.85 L454.43 405.34 L455.07 407.59 L455.70 406.49 L456.34 404.43 L456.98 403.90 L457.62 399.55 L458.25 399.74 L458.89 400.94 L459.53 398.03 L460.16 398.18 L460.80 396.91 L461.44 405.41 L462.07 406.22 L462.71 403.77 L463.35 406.24 L463.99 407.55 L464.62 408.51 L465.26 411.83 L465.90 409.93 L466.53 404.89 L467.17 400.10 L467.81 398.53 L468.44 408.69 L469.08 409.07 L469.72 407.76 L470.36 406.08 L470.99 404.87 L471.63 407.96 L472.27 410.17 L472.90 406.59 L473.54 408.74 L474.18 409.24 L474.81 405.81 L475.45 405.21 L476.09 407.02 L476.72 408.62 L477.36 408.73 L478.00 407.13 L478.64 407.43 L479.27 404.57 L479.91 406.85 L480.55 405.42 L481.18 405.00 L481.82 406.67 L482.46 406.54 L483.09 408.65 L483.73 406.90 L484.37 405.10 L485.01 402.94 L485.64 402.74 L486.28 405.77 L486.92 404.79 L487.55 408.48 L488.19 413.31 L488.83 409.74 L489.46 409.69 L490.10 407.89 L490.74 409.96 L491.38 409.00 L492.01 409.69 L492.65 411.53 L493.29 408.53 L493.92 404.06 L494.56 404.49 L495.20 407.27 L495.83 409.96 L496.47 412.57 L497.11 406.56 L497.75 405.71 L498.38 406.10 L499.02 404.09 L499.66 406.34 L500.29 407.66 L500.93 411.18 L501.57 406.03 L502.20 408.11 L502.84 409.01 L503.48 408.59 L504.12 409.53 L504.75 407.55 L505.39 409.32 L506.03 412.40 L506.66 415.42 L507.30 407.35 L507.94 405.77 L508.57 411.39 L509.21 410.79 L509.85 411.00 L510.49 413.57 L511.12 411.66 L511.76 409.97 L512.40 409.67 L513.03 410.18 L513.67 410.53 L514.31 404.21 L514.94 407.15 L515.58 410.85 L516.22 406.95 L516.86 404.28 L517.49 405.51 L518.13 409.82 L518.77 406.92 L519.40 408.92 L520.04 411.23 L520.68 414.51 L521.31 416.90 L521.95 413.27 L522.59 413.52 L523.23 419.33 L523.86 413.05" fill="none" stroke="#1f77b4" stroke-width="1.2" stroke-linejoin="round"/>
<path d="M333.40 333.73 L334.04 336.27 L334.67 336.54 L335.31 337.20 L335.95 338.98 L336.58 338.56 L337.22 339.59 L337.86 338.76 L338.50 337.90 L339.13 340.19 L339.77 340.26 L340.41 339.79 L341.04 341.06 L341.68 342.19 L342.32 341.52 L342.95 342.16 L343.59 344.10 L344.23 343.82 L344.87 343.74 L345.50 345.22 L346.14 343.78 L346.78 346.03 L347.41 346.47 L348.05 349.97 L348.69 350.25 L349.32 351.91 L349.96 351.71 L350.60 352.08 L351.24 350.12 L351.87 349.35 L352.51 349.96 L353.15 350.06 L353.78 351.54 L354.42 351.91 L355.06 353.41 L355.69 353.78 L356.33 356.00 L356.97 353.67 L357.61 355.24 L358.24 356.07 L358.88 354.40 L359.52 355.84 L360.15 356.61 L360.79 357.31 L361.43 358.69 L362.06 356.88 L362.70 358.09 L363.34 362.10 L363.98 360.03 L364.61 358.89 L365.25 359.73 L365.89 360.77 L366.52 358.10 L367.16 361.25 L367.80 363.19 L368.44 362.95 L369.07 366.02 L369.71 365.56 L370.35 364.79 L370.98 365.13 L371.62 365.85 L372.26 367.11 L372.89 368.67 L373.53 367.22 L374.17 369.03 L374.80 370.68 L375.44 370.96 L376.08 372.09 L376.72 372.68 L377.35 372.82 L377.99 371.80 L378.63 373.43 L379.26 374.09 L379.90 374.09 L380.54 373.37 L381.17 374.62 L381.81 379.21 L382.45 379.39 L383.09 379.18 L383.72 382.37 L384.36 381.67 L385.00 382.61 L385.63 380.69 L386.27 378.63 L386.91 384.36 L387.54 385.77 L388.18 384.83 L388.82 383.12 L389.46 385.44 L390.09 385.76 L390.73 386.73 L391.37 385.80 L392.00 385.77 L392.64 386.41 L393.28 388.69 L393.91 386.25 L394.55 389.04 L395.19 389.01 L395.83 387.79 L396.46 391.06 L397.10 391.58 L397.74 389.76 L398.37 389.20 L399.01 392.79 L399.65 394.46 L400.28 393.70 L400.92 392.80 L401.56 390.76 L402.20 390.90 L402.83 393.81 L403.47 394.06 L404.11 391.93 L404.74 393.87 L405.38 395.30 L406.02 398.38 L406.65 398.27 L407.29 396.98 L407.93 399.85 L408.57 399.06 L409.20 396.24 L409.84 396.54 L410.48 396.87 L411.11 399.17 L411.75 399.80 L412.39 399.88 L413.02 400.09 L413.66 402.26 L414.30 400.55 L414.94 399.57 L415.57 402.58 L416.21 402.99 L416.85 400.26 L417.48 397.72 L418.12 400.14 L418.76 399.09 L419.39 400.03 L420.03 404.19 L420.67 401.01 L421.31 399.33 L421.94 399.66 L422.58 402.13 L423.22 404.54 L423.85 401.41 L424.49 401.85 L425.13 401.96 L425.76 401.87 L426.40 402.07 L427.04 403.05 L427.68 406.25 L428.31 408.22 L428.95 404.42 L429.59 408.91 L430.22 405.98 L430.86 408.23 L431.50 406.03 L432.13 403.59 L432.77 405.14 L433.41 405.42 L434.05 406.62 L434.68 404.62 L435.32 409.81 L435.96 407.47 L436.59 407.98 L437.23 408.55 L437.87 405.62 L438.50 404.36 L439.14 407.53 L439.78 409.00 L440.42 406.89 L441.05 407.96 L441.69 407.42 L442.33 406.56 L442.96 405.57 L443.60 407.14 L444.24 408.08 L444.88 408.39 L445.51 411.28 L446.15 410.41 L446.79 410.86 L447.42 409.99 L448.06 407.44 L448.70 409.40 L449.33 411.80 L449.97 409.55 L450.61 408.28 L451.25 406.96 L451.88 408.31 L452.52 407.42 L453.16 409.60 L453.79 409.19 L454.43 412.89 L455.07 411.97 L455.70 414.67 L456.34 411.64 L456.98 413.22 L457.62 413.38 L458.25 412.00 L458.89 410.75 L459.53 414.29 L460.16 413.90 L460.80 410.65 L461.44 412.28 L462.07 411.99 L462.71 410.15 L463.35 413.05 L463.99 413.74 L464.62 410.11 L465.26 410.39 L465.90 412.76 L466.53 410.37 L467.17 409.91 L467.81 411.11 L468.44 414.12 L469.08 416.37 L469.72 415.89 L470.36 415.11 L470.99 412.84 L471.63 413.14 L472.27 412.66 L472.90 414.71 L473.54 416.67 L474.18 413.12 L474.81 414.55 L475.45 412.58 L476.09 413.46 L476.72 414.41 L477.36 417.65 L478.00 415.06 L478.64 415.33 L479.27 413.93 L479.91 414.28 L480.55 409.84 L481.18 412.39 L481.82 412.12 L482.46 410.49 L483.09 413.44 L483.73 411.22 L484.37 416.60 L485.01 416.52 L485.64 415.93 L486.28 418.14 L486.92 420.57 L487.55 417.54 L488.19 415.57 L488.83 416.73 L489.46 416.51 L490.10 417.09 L490.74 416.86 L491.38 415.60 L492.01 417.38 L492.65 415.72 L493.29 417.53 L493.92 416.74 L494.56 418.76 L495.20 419.91 L495.83 418.08 L496.47 417.19 L497.11 416.35 L497.75 418.11 L498.38 416.50 L499.02 415.56 L499.66 418.25 L500.29 418.16 L500.93 416.16 L501.57 416.74 L502.20 414.37 L502.84 417.17 L503.48 418.74 L504.12 416.11 L504.75 416.08 L505.39 417.91 L506.03 419.62 L506.66 416.95 L507.30 415.42 L507.94 413.32 L508.57 416.69 L509.21 416.75 L509.85 416.11 L510.49 417.01 L511.12 417.34 L511.76 415.65 L512.40 417.19 L513.03 419.92 L513.67 422.28 L514.31 422.32 L514.94 421.69 L515.58 419.93 L516.22 422.78 L516.86 421.30 L517.49 420.30 L518.13 418.51 L518.77 418.47 L519.40 420.74 L520.04 417.71 L520.68 421.17 L521.31 421.69 L521.95 419.50 L522.59 421.31 L523.23 423.81 L523.86 419.71" fill="none" stroke="#ff7f0e" stroke-width="1.2" stroke-dasharray="2.9 1.3" stroke-linejoin="round"/>
<rect x="323.60" y="325.70" width="210.10" height="102.80" fill="none" stroke="#555555" stroke-width="0.9"/>
<line x1="333.40" y1="428.50" x2="333.40" y2="430.39" stroke="#555555" stroke-width="0.7"/>
<text transform="translate(333.40 438.17) scale(0.889 1)" text-anchor="middle" font-family="&quot;DejaVu Sans&quot;, &quot;Liberation Sans&quot;, sans-serif" font-size="7.05" fill="#2b2b2b" stroke="#2b2b2b" stroke-width="0.1">0</text>
<line x1="365.25" y1="428.50" x2="365.25" y2="430.39" stroke="#555555" stroke-width="0.7"/>
<text transform="translate(365.25 438.17) scale(0.889 1)" text-anchor="middle" font-family="&quot;DejaVu Sans&quot;, &quot;Liberation Sans&quot;, sans-serif" font-size="7.05" fill="#2b2b2b" stroke="#2b2b2b" stroke-width="0.1">50</text>
<line x1="397.10" y1="428.50" x2="397.10" y2="430.39" stroke="#555555" stroke-width="0.7"/>
<text transform="translate(397.10 438.17) scale(0.889 1)" text-anchor="middle" font-family="&quot;DejaVu Sans&quot;, &quot;Liberation Sans&quot;, sans-serif" font-size="7.05" fill="#2b2b2b" stroke="#2b2b2b" stroke-width="0.1">100</text>
<line x1="428.95" y1="428.50" x2="428.95" y2="430.39" stroke="#555555" stroke-width="0.7"/>
<text transform="translate(428.95 438.17) scale(0.889 1)" text-anchor="middle" font-family="&quot;DejaVu Sans&quot;, &quot;Liberation Sans&quot;, sans-serif" font-size="7.05" fill="#2b2b2b" stroke="#2b2b2b" stroke-width="0.1">150</text>
<line x1="460.80" y1="428.50" x2="460.80" y2="430.39" stroke="#555555" stroke-width="0.7"/>
<text transform="translate(460.80 438.17) scale(0.889 1)" text-anchor="middle" font-family="&quot;DejaVu Sans&quot;, &quot;Liberation Sans&quot;, sans-serif" font-size="7.05" fill="#2b2b2b" stroke="#2b2b2b" stroke-width="0.1">200</text>
<line x1="492.65" y1="428.50" x2="492.65" y2="430.39" stroke="#555555" stroke-width="0.7"/>
<text transform="translate(492.65 438.17) scale(0.889 1)" text-anchor="middle" font-family="&quot;DejaVu Sans&quot;, &quot;Liberation Sans&quot;, sans-serif" font-size="7.05" fill="#2b2b2b" stroke="#2b2b2b" stroke-width="0.1">250</text>
<line x1="524.50" y1="428.50" x2="524.50" y2="430.39" stroke="#555555" stroke-width="0.7"/>
<text transform="translate(524.50 438.17) scale(0.889 1)" text-anchor="middle" font-family="&quot;DejaVu Sans&quot;, &quot;Liberation Sans&quot;, sans-serif" font-size="7.05" fill="#2b2b2b" stroke="#2b2b2b" stroke-width="0.1">300</text>
<line x1="321.30" y1="428.50" x2="323.60" y2="428.50" stroke="#555555" stroke-width="0.7"/>
<text transform="translate(318.11 431.07) scale(0.889 1)" text-anchor="end" font-family="&quot;DejaVu Sans&quot;, &quot;Liberation Sans&quot;, sans-serif" font-size="7.05" fill="#2b2b2b" stroke="#2b2b2b" stroke-width="0.1">0.0</text>
<line x1="321.30" y1="412.16" x2="323.60" y2="412.16" stroke="#555555" stroke-width="0.7"/>
<text transform="translate(318.11 414.73) scale(0.889 1)" text-anchor="end" font-family="&quot;DejaVu Sans&quot;, &quot;Liberation Sans&quot;, sans-serif" font-size="7.05" fill="#2b2b2b" stroke="#2b2b2b" stroke-width="0.1">0.2</text>
<line x1="321.30" y1="395.82" x2="323.60" y2="395.82" stroke="#555555" stroke-width="0.7"/>
<text transform="translate(318.11 398.39) scale(0.889 1)" text-anchor="end" font-family="&quot;DejaVu Sans&quot;, &quot;Liberation Sans&quot;, sans-serif" font-size="7.05" fill="#2b2b2b" stroke="#2b2b2b" stroke-width="0.1">0.4</text>
<line x1="321.30" y1="379.48" x2="323.60" y2="379.48" stroke="#555555" stroke-width="0.7"/>
<text transform="translate(318.11 382.05) scale(0.889 1)" text-anchor="end" font-family="&quot;DejaVu Sans&quot;, &quot;Liberation Sans&quot;, sans-serif" font-size="7.05" fill="#2b2b2b" stroke="#2b2b2b" stroke-width="0.1">0.6</text>
<line x1="321.30" y1="363.14" x2="323.60" y2="363.14" stroke="#555555" stroke-width="0.7"/>
<text transform="translate(318.11 365.71) scale(0.889 1)" text-anchor="end" font-family="&quot;DejaVu Sans&quot;, &quot;Liberation Sans&quot;, sans-serif" font-size="7.05" fill="#2b2b2b" stroke="#2b2b2b" stroke-width="0.1">0.8</text>
<line x1="321.30" y1="346.80" x2="323.60" y2="346.80" stroke="#555555" stroke-width="0.7"/>
<text transform="translate(318.11 349.37) scale(0.889 1)" text-anchor="end" font-family="&quot;DejaVu Sans&quot;, &quot;Liberation Sans&quot;, sans-serif" font-size="7.05" fill="#2b2b2b" stroke="#2b2b2b" stroke-width="0.1">1.0</text>
<line x1="321.30" y1="330.46" x2="323.60" y2="330.46" stroke="#555555" stroke-width="0.7"/>
<text transform="translate(318.11 333.03) scale(0.889 1)" text-anchor="end" font-family="&quot;DejaVu Sans&quot;, &quot;Liberation Sans&quot;, sans-serif" font-size="7.05" fill="#2b2b2b" stroke="#2b2b2b" stroke-width="0.1">1.2</text>
<rect x="488.10" y="328.70" width="42.30" height="21.30" rx="1.6" fill="#fff" fill-opacity="0.8" stroke="#d0d0d0" stroke-width="0.8"/>
<line x1="490.70" y1="334.50" x2="505.50" y2="334.50" stroke="#1f77b4" stroke-width="1.2"/>
<line x1="490.70" y1="344.30" x2="505.50" y2="344.30" stroke="#ff7f0e" stroke-width="1.2" stroke-dasharray="2.9 1.3"/>
<text transform="translate(511.00 337.07) scale(0.889 1)" text-anchor="start" font-family="&quot;DejaVu Sans&quot;, &quot;Liberation Sans&quot;, sans-serif" font-size="7.05" fill="#2b2b2b" stroke="#2b2b2b" stroke-width="0.1">Train</text>
<text transform="translate(511.00 346.87) scale(0.889 1)" text-anchor="start" font-family="&quot;DejaVu Sans&quot;, &quot;Liberation Sans&quot;, sans-serif" font-size="7.05" fill="#2b2b2b" stroke="#2b2b2b" stroke-width="0.1">Val</text>
<text transform="translate(292.40 379.40) rotate(-90)" text-anchor="middle" font-family="&quot;Liberation Serif&quot;, &quot;Times New Roman&quot;, serif" font-size="11.1" fill="#2f5496" stroke="#2f5496" stroke-width="0.15">Loss</text>
<text transform="translate(425.50 454.30)" text-anchor="middle" font-family="&quot;Liberation Serif&quot;, &quot;Times New Roman&quot;, serif" font-size="11.2" fill="#2f5496" stroke="#2f5496" stroke-width="0.15">Epoch</text></g>
</svg>
</body></html>
